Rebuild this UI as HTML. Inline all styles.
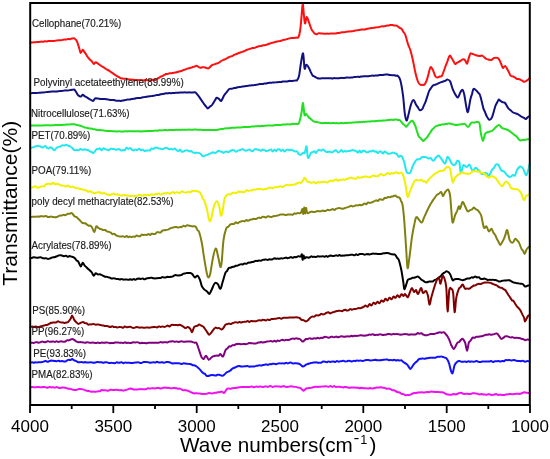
<!DOCTYPE html>
<html><head><meta charset="utf-8"><style>
html,body{margin:0;padding:0;background:#fff;}
svg{display:block;}
.c path{fill:none;stroke-width:2.0;stroke-linejoin:round;stroke-linecap:round;}
.l text{font-family:"Liberation Sans",Arial,sans-serif;font-size:10.15px;fill:#1a1a1a;stroke:#1a1a1a;stroke-width:0.15px;}
.t text{font-family:"Liberation Sans",Arial,sans-serif;font-size:17px;fill:#000;text-anchor:middle;}
.ax{font-family:"Liberation Sans",Arial,sans-serif;fill:#000;}
</style></head><body>
<svg width="550" height="459" viewBox="0 0 550 459">
<rect width="550" height="459" fill="#fff"/>
<g class="c">
<path d="M30.5,42.6 C30.8,42.6 31.6,42.5 32.1,42.4 C32.6,42.3 33.2,42.2 33.7,42.2 C34.2,42.2 34.8,42.4 35.3,42.3 C35.9,42.3 36.4,42 36.9,41.9 C37.5,41.9 38,42.1 38.5,42 C39.1,42 39.6,41.9 40.1,41.8 C40.7,41.8 41.2,41.6 41.8,41.6 C42.3,41.6 42.8,41.7 43.4,41.7 C43.9,41.6 44.4,41.4 45,41.3 C45.5,41.3 46,41.5 46.6,41.4 C47.1,41.4 47.6,41.2 48.2,41.1 C48.7,41.1 49.2,41 49.8,41 C50.3,41 50.9,41.1 51.4,41.1 C51.9,41.1 52.5,41 53,41 C53.5,41 54.1,41.1 54.6,41 C55.2,40.9 55.7,40.5 56.3,40.4 C56.8,40.3 57.4,40.3 57.9,40.3 C58.5,40.2 59,40.3 59.6,40.3 C60.1,40.3 60.7,40.3 61.2,40.2 C61.8,40.2 62.3,40 62.9,39.8 C63.4,39.7 64,39.6 64.5,39.5 C65.1,39.5 65.6,39.7 66.2,39.6 C66.7,39.5 67.3,39 67.8,39 C68.4,38.9 68.9,39.2 69.5,39.2 C70,39.1 70.6,38.8 71.1,38.7 C71.7,38.6 72.2,38.5 72.8,38.4 C73.3,38.4 73.7,37.9 74.4,38.4 C75.1,38.9 76.2,39.6 77,41.4 C77.8,43.2 78.8,47.1 79.4,49 C80,50.9 80.2,52.9 80.7,53 C81.2,53.1 82.1,49.8 82.7,49.7 C83.3,49.6 83.9,51.3 84.5,52.2 C85.1,53 85.8,54 86.4,54.9 C87,55.9 87.6,56.9 88.2,57.7 C88.8,58.5 89.5,59.1 90.1,59.8 C90.7,60.4 91.4,60.8 92,61.5 C92.6,62.2 93.1,63.9 93.7,64 C94.3,64.1 95.1,62.3 95.7,62.2 C96.3,62.1 97,62.9 97.6,63.3 C98.2,63.7 98.9,64.3 99.5,64.7 C100.1,65.2 100.8,65.6 101.4,66 C102,66.4 102.7,66.8 103.3,67.2 C103.9,67.6 104.5,67.9 105.1,68.3 C105.7,68.7 106.3,69.2 106.9,69.5 C107.5,69.9 108.1,70.1 108.7,70.5 C109.3,70.8 109.8,71.2 110.4,71.6 C111,72 111.6,72.4 112.2,72.8 C112.8,73.3 113.4,73.8 114,74.2 C114.6,74.6 115.2,75 115.8,75.3 C116.4,75.6 116.9,75.9 117.5,76.3 C118,76.6 118.6,76.9 119.1,77.2 C119.7,77.5 120.2,78.1 120.8,78.3 C121.4,78.5 122,78.5 122.6,78.6 C123.2,78.6 123.8,78.7 124.4,78.7 C125,78.8 125.6,78.7 126.2,78.8 C126.8,78.9 127.4,79.2 128,79.3 C128.6,79.4 129.2,79.4 129.8,79.5 C130.4,79.5 131,79.4 131.6,79.5 C132.2,79.5 132.8,79.7 133.4,79.8 C134,79.9 134.5,79.9 135.1,79.9 C135.6,79.9 136.2,79.9 136.7,79.9 C137.3,80 137.8,80.1 138.4,80.2 C139,80.2 139.5,80.2 140.1,80.1 C140.6,80.1 141.2,79.9 141.7,80 C142.3,80 142.8,80.4 143.4,80.4 C144,80.4 144.5,80 145.1,80 C145.6,80 146.2,80.2 146.7,80.2 C147.3,80.3 147.8,80.3 148.4,80.3 C149,80.3 149.7,80.4 150.3,80.3 C150.9,80.2 151.6,79.9 152.2,79.9 C152.8,79.8 153.5,79.9 154.1,79.9 C154.7,79.9 155.4,80 156,79.8 C156.6,79.6 157.1,78.8 157.7,78.5 C158.2,78.1 158.8,78 159.3,77.7 C159.9,77.4 160.4,76.8 161,76.5 C161.6,76.2 162.1,76.1 162.7,75.8 C163.2,75.5 163.8,75.2 164.3,74.9 C164.9,74.6 165.4,74.2 166,74 C166.6,73.8 167.2,74 167.8,73.9 C168.3,73.8 168.9,73.4 169.5,73.3 C170.1,73.2 170.7,73.3 171.2,73.2 C171.8,73.2 172.4,73 173,72.9 C173.6,72.8 174.2,72.7 174.8,72.6 C175.3,72.5 175.9,72.5 176.5,72.3 C177.1,72.1 177.7,71.9 178.3,71.7 C178.9,71.5 179.5,71.5 180.1,71.3 C180.7,71.1 181.3,71 181.9,70.8 C182.5,70.5 183,70.2 183.6,69.9 C184.2,69.7 184.8,69.7 185.4,69.5 C186,69.2 186.6,68.8 187.2,68.6 C187.8,68.4 188.4,68.3 189,68.2 C189.6,68.1 190.3,67.9 190.9,67.7 C191.5,67.5 192.2,67.2 192.8,67 C193.4,66.8 194.1,66.8 194.7,66.6 C195.3,66.4 196,65.7 196.6,65.7 C197.2,65.7 197.9,66.5 198.5,66.9 C199.1,67.2 199.8,67.6 200.4,67.7 C201,67.8 201.6,67.4 202.2,67.3 C202.8,67.3 203.4,67.1 204,67.2 C204.6,67.3 205.3,67.6 206,67.8 C206.7,68 207.4,68.6 208,68.5 C208.6,68.4 209.1,67.8 209.7,67.3 C210.2,66.9 210.8,66.2 211.3,65.7 C211.9,65.3 212.4,65 213,64.7 C213.6,64.4 214.1,64.4 214.7,64.2 C215.2,64 215.8,63.7 216.3,63.5 C216.9,63.4 217.4,63.5 218,63.2 C218.6,62.9 219.4,62.2 220.1,61.8 C220.8,61.3 221.4,60.9 222.1,60.5 C222.8,60.1 223.6,59.8 224.2,59.5 C224.8,59.2 225.3,59.2 225.9,58.9 C226.4,58.6 227,58.1 227.6,57.8 C228.1,57.5 228.7,57.3 229.2,57.1 C229.8,56.9 230.4,56.6 230.9,56.4 C231.5,56.2 232,56.2 232.6,55.9 C233.1,55.6 233.7,55 234.3,54.8 C234.8,54.5 235.4,54.4 235.9,54.2 C236.5,54 237.1,53.7 237.6,53.5 C238.2,53.2 238.7,52.9 239.3,52.7 C239.9,52.5 240.5,52.4 241.1,52.2 C241.7,52.1 242.3,51.8 242.9,51.6 C243.5,51.4 244.1,51.2 244.7,51 C245.3,50.7 245.8,50.3 246.4,50 C247,49.8 247.6,49.7 248.2,49.4 C248.8,49.2 249.4,49 250,48.8 C250.6,48.6 251.2,48.3 251.8,48.2 C252.4,48.1 253,48.1 253.6,48 C254.2,47.9 254.8,47.8 255.4,47.6 C256,47.4 256.6,46.9 257.2,46.7 C257.8,46.5 258.4,46.5 259,46.3 C259.6,46.2 260.2,46.1 260.8,45.9 C261.4,45.8 262,45.6 262.6,45.5 C263.2,45.4 263.8,45.3 264.4,45.2 C265,45.1 265.6,44.8 266.2,44.7 C266.8,44.5 267.4,44.4 268,44.2 C268.6,44 269.2,43.8 269.8,43.5 C270.4,43.3 270.9,43.1 271.5,42.9 C272.1,42.7 272.7,42.7 273.3,42.6 C273.9,42.4 274.5,42.2 275.1,42 C275.7,41.9 276.3,41.7 276.9,41.6 C277.5,41.5 278.1,41.3 278.7,41.2 C279.3,41.1 279.9,41.1 280.5,40.9 C281.1,40.8 281.7,40.5 282.3,40.3 C282.9,40.1 283.4,39.9 284,39.8 C284.6,39.6 285.2,39.5 285.8,39.4 C286.4,39.2 287,39.1 287.6,38.9 C288.2,38.8 288.8,38.6 289.4,38.4 C290,38.2 290.6,38 291.2,37.9 C291.8,37.9 292.4,38.1 293,38.1 C293.6,38.1 294.3,37.9 294.9,37.8 C295.5,37.7 296.1,37.7 296.7,37.6 C297.3,37.5 297.9,38.5 298.5,37.2 C299.1,35.9 299.6,34 300.2,30 C300.8,26 301.4,17.5 301.8,13 C302.2,8.5 302.5,2.9 302.8,2.9 C303.1,2.9 303.3,9.6 303.7,13 C304.1,16.4 304.5,22.8 305,23.5 C305.5,24.2 306.1,17.2 306.7,17 C307.3,16.8 308.1,20.1 308.9,22.2 C309.7,24.3 310.8,27.8 311.5,29.4 C312.2,31 312.6,31 313.1,31.7 C313.7,32.4 314.2,33.3 314.8,33.7 C315.4,34.1 316.2,34.3 316.8,34.2 C317.4,34.1 318,33.4 318.7,33.3 C319.4,33.2 320.1,33.4 320.8,33.4 C321.5,33.5 322.2,33.5 322.9,33.6 C323.6,33.6 324.4,33.8 325,33.8 C325.6,33.8 326.2,33.6 326.8,33.6 C327.4,33.5 328,33.8 328.6,33.8 C329.2,33.7 329.8,33.5 330.4,33.4 C330.9,33.4 331.5,33.4 332.1,33.4 C332.7,33.4 333.3,33.4 333.9,33.4 C334.5,33.4 335.1,33.6 335.7,33.5 C336.3,33.4 336.8,33.2 337.3,33.1 C337.8,33 338.4,33 338.9,33 C339.5,32.9 340,32.7 340.5,32.6 C341.1,32.5 341.6,32.4 342.1,32.3 C342.7,32.2 343.2,32.2 343.8,32.2 C344.3,32.1 344.8,32 345.4,31.9 C345.9,31.8 346.4,31.9 347,31.8 C347.5,31.7 348.1,31.5 348.6,31.4 C349.1,31.3 349.7,31.4 350.2,31.4 C350.7,31.4 351.3,31.4 351.9,31.3 C352.4,31.3 353,31.1 353.5,31 C354.1,30.8 354.7,30.6 355.2,30.5 C355.8,30.3 356.3,30.3 356.9,30.3 C357.5,30.2 358,30.1 358.6,30.1 C359.1,30 359.7,29.9 360.2,29.8 C360.8,29.7 361.4,29.5 361.9,29.4 C362.5,29.4 363,29.6 363.6,29.5 C364.1,29.5 364.7,29.5 365.3,29.4 C365.8,29.3 366.4,29 366.9,28.8 C367.5,28.7 368,28.7 368.6,28.6 C369.2,28.5 369.7,28.3 370.3,28.2 C370.8,28 371.4,28 372,27.9 C372.5,27.8 373.1,27.8 373.6,27.8 C374.2,27.7 374.7,27.7 375.3,27.6 C375.9,27.5 376.4,27.3 377,27.2 C377.5,27.1 378.1,27.3 378.6,27.2 C379.2,27.1 379.7,26.8 380.3,26.6 C380.9,26.4 381.4,26.3 382,26.3 C382.5,26.2 383.1,26.5 383.6,26.4 C384.2,26.4 384.7,26.1 385.3,25.9 C385.9,25.8 386.4,25.6 387,25.5 C387.5,25.4 388.1,25.5 388.6,25.4 C389.2,25.3 389.7,25.2 390.3,25.1 C390.9,25 391.7,25 392.4,25 C393.1,25.1 393.8,25.4 394.5,25.4 C395.2,25.5 396,25.4 396.6,25.6 C397.2,25.8 397.7,26.5 398.3,26.9 C398.8,27.3 399.4,27.7 399.9,28 C400.5,28.3 401,28.2 401.6,28.9 C402.2,29.6 402.9,31.1 403.5,32.1 C404.1,33.1 404.7,33.1 405.4,35.1 C406.1,37.1 407.1,41.4 407.9,43.9 C408.7,46.4 409.6,47.5 410.4,50.2 C411.2,52.9 412.1,56.4 412.9,60.2 C413.7,64 414.6,69.2 415.4,72.8 C416.2,76.3 417.1,79.5 417.9,81.5 C418.7,83.5 419.7,84.3 420.4,84.8 C421.1,85.3 421.7,84.7 422.3,84.7 C422.9,84.7 423.5,85.5 424.2,84.8 C424.9,84.1 426,82.2 426.7,80.3 C427.4,78.4 428,75.9 428.6,73.7 C429.2,71.5 429.8,67.8 430.5,67.2 C431.2,66.6 432.2,68.7 433,70.2 C433.8,71.8 434.7,75.3 435.5,76.5 C436.3,77.7 436.9,77.5 437.6,77.5 C438.3,77.5 439.1,76.7 439.8,76.4 C440.5,76.1 441.1,77.3 442,75.7 C442.9,74.1 444.3,69.4 445.2,67 C446.1,64.6 446.7,63.4 447.4,61.5 C448.1,59.6 448.9,56.2 449.6,55.7 C450.3,55.2 450.9,56.9 451.8,58.3 C452.7,59.6 454.2,63 455,63.8 C455.8,64.6 456.1,63.3 456.6,63 C457.2,62.7 457.7,62.5 458.3,62.2 C458.9,61.9 459.8,61.4 460.5,60.9 C461.2,60.5 462,59.6 462.7,59.4 C463.4,59.2 464.2,59.3 464.9,60 C465.6,60.7 466.4,64 467,63.8 C467.6,63.6 468.1,60.3 468.6,58.6 C469.2,56.8 469.8,54.3 470.3,53.5 C470.9,52.7 471.4,53.7 472,53.8 C472.5,54 473,54.2 473.6,54.4 C474.2,54.6 475,55 475.8,55.2 C476.5,55.4 477.2,55.6 477.9,55.7 C478.6,55.8 479.4,55.9 480.1,55.9 C480.8,55.9 481.6,55.4 482.3,55.7 C483,56 483.7,57 484.5,57.5 C485.2,58.1 485.9,58.6 486.6,59 C487.3,59.4 488.1,59.5 488.8,59.7 C489.5,59.8 490.4,60.1 491,60 C491.6,59.9 492.1,59.5 492.6,59.1 C493.2,58.8 493.5,58.1 494.3,57.9 C495.1,57.7 496.6,57.5 497.5,57.9 C498.4,58.3 499.1,59.4 499.7,60.5 C500.3,61.6 500.8,63.2 501.4,64.4 C501.9,65.7 502.4,67.9 503,68.1 C503.6,68.3 504.4,65.7 505.1,65.9 C505.8,66.1 506.7,68.1 507.3,69.2 C507.9,70.3 508.4,71.2 509,72.3 C509.5,73.4 510.1,75 510.6,75.7 C511.2,76.4 511.7,76.1 512.2,76.3 C512.8,76.4 513.4,76.5 513.9,76.8 C514.4,77.1 515,77.5 515.5,77.8 C516,78.2 516.6,78.8 517.1,79 C517.6,79.2 518.2,79 518.8,79.1 C519.3,79.2 519.9,79.5 520.4,79.7 C520.9,79.9 521.5,80.2 522,80.5 C522.6,80.9 523.1,81.7 523.7,81.8 C524.3,81.9 525.1,81.5 525.8,81.2 C526.5,80.9 527.4,80.2 528,79.7 C528.6,79.2 529.2,78.6 529.5,78.4" stroke="#ff1010"/>
<path d="M30.5,93.3 C30.8,93.3 31.6,93.1 32.1,93.1 C32.6,93 33.2,93 33.7,93 C34.2,92.9 34.8,93 35.3,93 C35.9,93 36.4,93.1 36.9,93 C37.5,92.9 38,92.7 38.5,92.7 C39.1,92.6 39.6,92.8 40.1,92.7 C40.7,92.7 41.2,92.7 41.8,92.6 C42.3,92.6 42.8,92.6 43.4,92.5 C43.9,92.4 44.4,92.2 45,92.2 C45.5,92.1 46,92 46.6,92 C47.1,91.9 47.6,91.9 48.2,91.9 C48.7,91.8 49.2,91.8 49.8,91.7 C50.3,91.7 50.9,91.6 51.4,91.6 C51.9,91.6 52.5,91.6 53,91.6 C53.5,91.6 54.1,91.5 54.6,91.5 C55.2,91.5 55.7,91.5 56.3,91.5 C56.8,91.4 57.4,91.4 57.9,91.3 C58.5,91.2 59,91 59.6,91 C60.1,90.9 60.7,90.9 61.2,90.9 C61.8,90.9 62.3,90.9 62.9,90.8 C63.4,90.7 64,90.4 64.5,90.4 C65.1,90.3 65.6,90.4 66.2,90.4 C66.7,90.4 67.3,90.4 67.8,90.4 C68.4,90.3 68.9,90.2 69.5,90.2 C70,90.1 70.6,90.1 71.1,90 C71.7,89.9 72.2,89.8 72.8,89.7 C73.3,89.7 73.8,89.2 74.4,89.6 C75,90 75.7,91.4 76.3,92.3 C76.9,93.3 77.5,94.6 78.2,95.3 C78.9,96 80,96.7 80.7,96.6 C81.5,96.5 82.1,94.9 82.7,94.8 C83.3,94.7 83.9,95.7 84.5,96.1 C85.1,96.5 85.8,96.7 86.4,97.1 C87,97.4 87.6,97.9 88.2,98.3 C88.8,98.7 89.3,99 89.9,99.3 C90.4,99.6 91,100 91.5,100.2 C92.1,100.5 92.6,101.2 93.2,100.9 C93.8,100.6 94.6,98.7 95.2,98.3 C95.8,97.9 96.3,98.4 96.8,98.4 C97.4,98.5 97.9,98.5 98.4,98.6 C99,98.7 99.5,98.9 100.1,99 C100.6,99 101.1,99 101.7,99 C102.2,99.1 102.7,99.1 103.3,99.1 C103.9,99.1 104.5,99.1 105,99.1 C105.6,99.2 106.2,99.3 106.8,99.3 C107.4,99.4 108,99.4 108.5,99.5 C109.1,99.6 109.7,99.9 110.3,100 C110.9,100.1 111.5,100.1 112,100.1 C112.6,100.1 113.2,100 113.8,100 C114.4,100.1 115,100.4 115.5,100.5 C116.1,100.6 116.7,100.7 117.3,100.7 C117.9,100.8 118.5,100.8 119,100.8 C119.6,100.8 120.2,100.9 120.8,100.9 C121.4,100.9 121.9,100.6 122.5,100.6 C123,100.5 123.6,100.5 124.2,100.3 C124.7,100.2 125.3,100 125.8,99.9 C126.4,99.8 127,99.6 127.5,99.6 C128.1,99.5 128.6,99.7 129.2,99.6 C129.7,99.6 130.3,99.4 130.9,99.2 C131.4,99.1 132,99 132.5,98.9 C133.1,98.8 133.7,98.9 134.2,98.8 C134.8,98.7 135.3,98.4 135.9,98.3 C136.5,98.2 137.1,98.1 137.7,98 C138.2,98 138.8,98 139.4,97.9 C140,97.9 140.6,97.8 141.2,97.7 C141.7,97.6 142.3,97.3 142.9,97.2 C143.5,97.1 144.1,97 144.7,97 C145.2,96.9 145.8,96.8 146.4,96.7 C147,96.6 147.6,96.5 148.2,96.4 C148.7,96.4 149.3,96.4 149.9,96.3 C150.5,96.3 151.1,96 151.7,96 C152.2,95.9 152.8,95.9 153.4,95.8 C154,95.7 154.6,95.6 155.2,95.4 C155.8,95.3 156.4,95 157,94.9 C157.6,94.9 158.2,95 158.8,94.9 C159.4,94.8 160,94.5 160.6,94.3 C161.2,94.2 161.8,94.1 162.4,94 C163,93.9 163.6,93.8 164.2,93.7 C164.8,93.6 165.4,93.4 166,93.3 C166.6,93.2 167.2,93.4 167.8,93.4 C168.3,93.3 168.9,93.1 169.5,93.1 C170.1,93.1 170.7,93.2 171.2,93.2 C171.8,93.2 172.4,93 173,93 C173.6,92.9 174.2,92.9 174.8,92.9 C175.3,92.9 175.9,92.8 176.5,92.8 C177.1,92.8 177.6,92.8 178.2,92.8 C178.8,92.7 179.4,92.5 179.9,92.5 C180.5,92.5 181.1,92.6 181.7,92.6 C182.2,92.6 182.8,92.5 183.4,92.5 C183.9,92.4 184.5,92.3 185.1,92.4 C185.7,92.4 186.2,92.7 186.8,92.6 C187.4,92.6 188,92.4 188.5,92.4 C189.1,92.3 189.7,92.4 190.2,92.4 C190.8,92.4 191.4,92.5 192,92.5 C192.5,92.5 193.1,92.4 193.7,92.4 C194.3,92.3 194.8,92 195.4,92.3 C196,92.6 196.6,93.7 197.2,94.4 C197.8,95.1 198.4,95.8 199,96.6 C199.6,97.4 200.1,98.3 200.7,99.1 C201.3,99.9 201.8,100.8 202.4,101.6 C203,102.5 203.5,103.3 204.1,104.1 C204.7,104.9 205.4,105.6 206,106.4 C206.6,107.1 207.3,108.3 207.9,108.4 C208.5,108.5 209.2,107.2 209.8,106.7 C210.4,106.2 211.1,106 211.7,105.4 C212.3,104.8 212.8,103.8 213.4,102.9 C213.9,102 214.5,101.1 215,100.2 C215.6,99.4 216,98 216.7,97.8 C217.4,97.6 218.4,98.6 219.2,99.1 C219.9,99.6 220.4,101.5 221.2,100.9 C222,100.3 223.4,96.6 224.2,95.3 C225,94 225.3,93.8 225.9,93.1 C226.4,92.4 227,91.9 227.5,91.2 C228.1,90.5 228.6,89.4 229.2,89 C229.8,88.6 230.3,88.8 230.9,88.7 C231.4,88.6 232,88.5 232.6,88.4 C233.1,88.3 233.7,88.2 234.2,88.1 C234.8,88 235.4,88 235.9,87.8 C236.5,87.7 237.1,87.4 237.6,87.3 C238.2,87.2 238.7,87.1 239.3,87 C239.9,86.9 240.4,86.9 241,86.8 C241.5,86.7 242.1,86.6 242.6,86.5 C243.2,86.5 243.8,86.4 244.3,86.3 C244.9,86.2 245.4,86.2 246,86.1 C246.6,86.1 247.1,85.9 247.7,85.8 C248.2,85.7 248.8,85.7 249.3,85.6 C249.9,85.5 250.5,85.4 251,85.4 C251.6,85.3 252.1,85.4 252.7,85.3 C253.2,85.2 253.8,85.1 254.4,85 C254.9,84.9 255.5,84.9 256,84.8 C256.6,84.8 257.1,84.7 257.7,84.6 C258.3,84.5 258.8,84.2 259.4,84.1 C259.9,84 260.5,84 261.1,84 C261.6,84 262.2,84 262.7,83.9 C263.3,83.8 263.8,83.6 264.4,83.5 C265,83.4 265.5,83.5 266.1,83.5 C266.6,83.4 267.2,83.1 267.7,83 C268.3,82.9 268.8,82.9 269.4,82.8 C270,82.8 270.5,82.9 271.1,82.8 C271.6,82.8 272.2,82.6 272.7,82.5 C273.3,82.4 273.8,82.5 274.4,82.4 C275,82.3 275.5,82.2 276.1,82.2 C276.6,82.1 277.2,82.2 277.7,82.2 C278.3,82.2 278.8,82.2 279.4,82.1 C280,82.1 280.5,82.1 281.1,82 C281.6,81.9 282.2,81.6 282.7,81.5 C283.3,81.4 283.8,81.5 284.4,81.5 C285,81.5 285.6,81.5 286.2,81.4 C286.8,81.4 287.4,81.3 288,81.2 C288.6,81.1 289.2,80.9 289.8,80.8 C290.4,80.8 291,81 291.6,81 C292.2,81 292.8,80.9 293.4,80.8 C294,80.7 294.6,80.4 295.2,80.4 C295.8,80.3 296.4,81 297,80.3 C297.6,79.6 298.3,78.9 299,76 C299.7,73.1 300.3,66.5 301,62.7 C301.7,59 302.5,52.5 303.1,53.5 C303.7,54.5 304.1,66.6 304.6,68.5 C305.1,70.4 305.6,64.8 306.3,64.7 C307,64.6 308.1,66.5 308.8,67.7 C309.5,68.9 310,70.4 310.6,71.7 C311.3,72.9 311.9,74.5 312.5,75.3 C313.1,76.1 313.6,75.9 314.2,76.3 C314.8,76.6 315.3,77 315.9,77.3 C316.5,77.6 317,78.1 317.6,78.3 C318.2,78.5 318.7,78.5 319.3,78.5 C319.8,78.5 320.4,78.5 320.9,78.4 C321.5,78.4 322,78.2 322.6,78.2 C323.2,78.1 323.7,78.2 324.3,78.3 C324.8,78.3 325.4,78.3 325.9,78.3 C326.5,78.3 327,78.3 327.6,78.2 C328.2,78.2 328.7,78.2 329.3,78.2 C329.8,78.2 330.4,78.2 330.9,78.2 C331.5,78.3 332,78.4 332.6,78.4 C333.2,78.4 333.7,78.1 334.3,78.1 C334.8,78.1 335.4,78.3 335.9,78.3 C336.5,78.4 337,78.3 337.6,78.3 C338.2,78.3 338.7,78.2 339.3,78.2 C339.8,78.1 340.4,77.9 340.9,77.9 C341.5,77.8 342.1,77.9 342.6,77.9 C343.2,77.9 343.7,77.9 344.3,77.9 C344.9,77.8 345.4,77.8 346,77.7 C346.5,77.6 347.1,77.4 347.6,77.4 C348.2,77.4 348.8,77.6 349.3,77.7 C349.9,77.7 350.4,77.5 351,77.5 C351.5,77.4 352.1,77.5 352.7,77.4 C353.2,77.3 353.8,77 354.3,76.9 C354.9,76.9 355.4,76.9 356,76.9 C356.6,76.8 357.1,76.7 357.7,76.7 C358.2,76.7 358.8,76.9 359.4,76.9 C359.9,76.8 360.5,76.6 361,76.5 C361.6,76.5 362.1,76.6 362.7,76.5 C363.3,76.4 363.8,76.3 364.4,76.2 C364.9,76.2 365.5,76.2 366,76.2 C366.6,76.2 367.2,76.3 367.7,76.3 C368.3,76.2 368.8,76.2 369.4,76.1 C370,76 370.5,75.8 371.1,75.7 C371.6,75.6 372.2,75.6 372.7,75.6 C373.3,75.6 373.9,75.8 374.4,75.7 C375,75.7 375.5,75.5 376.1,75.5 C376.6,75.4 377.2,75.5 377.8,75.4 C378.3,75.3 378.9,75.1 379.4,75 C380,74.9 380.5,74.9 381.1,74.9 C381.7,74.9 382.2,75 382.8,75 C383.3,75 383.9,74.8 384.5,74.7 C385,74.7 385.6,74.5 386.1,74.5 C386.7,74.4 387.2,74.4 387.8,74.5 C388.4,74.6 388.9,74.8 389.5,74.9 C390,75 390.6,74.9 391.1,75 C391.7,75.1 392.2,75.2 392.8,75.3 C393.4,75.3 393.9,75.1 394.5,75.2 C395,75.3 395.6,75.6 396.1,75.7 C396.7,75.8 397.1,75 397.8,75.8 C398.5,76.6 399.5,77 400.4,80.4 C401.3,83.8 402.4,90.6 403.1,96.1 C403.8,101.6 404.2,109.4 404.8,113.5 C405.4,117.6 405.9,120.2 406.5,120.5 C407.1,120.8 407.6,117.9 408.3,115.3 C409,112.7 410,107.3 410.9,104.8 C411.8,102.2 412.6,100 413.5,100 C414.4,100 415.4,103.6 416.1,104.8 C416.8,106 417.3,106.4 417.9,107.2 C418.4,108.1 418.9,109.7 419.6,110 C420.3,110.3 421.5,110 422.2,109.2 C422.9,108.4 423.4,106.7 423.9,105.4 C424.5,104.1 425.1,102.9 425.7,101.3 C426.3,99.7 426.9,97.8 427.4,96.1 C428,94.3 428.6,92.2 429.2,90.9 C429.8,89.6 430.4,89.1 430.9,88.2 C431.5,87.4 432.1,86.3 432.7,85.7 C433.3,85.1 434.1,85.1 434.7,84.9 C435.4,84.6 436.1,84.4 436.8,84.1 C437.4,83.8 438.2,83.4 438.8,83.1 C439.4,82.8 440,82.6 440.5,82.4 C441.1,82.2 441.7,81.9 442.3,81.8 C442.8,81.6 443.4,81.5 444,81.3 C444.6,81.1 445.2,80.7 445.8,80.5 C446.3,80.2 446.8,79.5 447.5,79.6 C448.2,79.7 449.2,79.7 450.1,81.3 C451,82.9 451.8,87 452.7,89.2 C453.6,91.4 454.4,93 455.3,94.4 C456.2,95.8 457,97.9 457.9,97.5 C458.8,97.1 459.7,93.4 460.5,92.1 C461.3,90.8 462.1,89.4 462.7,89.9 C463.3,90.4 463.8,92.2 464.4,95.3 C465,98.4 466,105.7 466.6,108.4 C467.2,111.1 467.5,113.2 468.1,111.7 C468.7,110.2 469.7,102.6 470.3,99.7 C470.9,96.8 471.4,96 472,94.1 C472.5,92.3 472.8,89.3 473.6,88.8 C474.4,88.3 476,90.3 476.8,91 C477.6,91.7 477.9,92.3 478.5,93 C479,93.7 479.6,93.8 480.1,95.3 C480.7,96.8 481.2,99.5 481.8,101.7 C482.3,103.9 482.9,106.7 483.4,108.4 C483.9,110.1 484.5,110.8 485,112 C485.5,113.3 485.9,114.7 486.6,116 C487.3,117.3 488.3,119.5 489.2,119.7 C490.1,119.9 491.1,119.3 492.1,117.1 C493.1,114.8 494.5,108.6 495.3,106.2 C496.1,103.8 496.4,103.9 497,102.8 C497.5,101.7 498.1,100.1 498.6,99.7 C499.2,99.3 499.7,100.4 500.2,100.7 C500.8,101.1 501.4,101.6 501.9,101.9 C502.4,102.2 503,102.2 503.5,102.4 C504,102.6 504.6,102.4 505.1,103 C505.6,103.6 506.2,104.9 506.8,105.8 C507.3,106.7 507.8,107.7 508.4,108.4 C509,109.1 509.9,109.6 510.6,110.3 C511.3,110.9 512.1,111.8 512.8,112.3 C513.5,112.8 514.2,112.8 515,113.1 C515.7,113.4 516.4,113.6 517.1,113.9 C517.8,114.2 518.6,114.7 519.3,115.2 C520,115.6 520.8,116.3 521.5,116.7 C522.2,117.1 522.9,117.4 523.6,117.7 C524.4,118.1 525.1,119 525.8,118.9 C526.5,118.8 527,117.7 527.6,117.3 C528.3,116.8 529.2,116.2 529.5,116" stroke="#101080"/>
<path d="M30.5,125.6 C30.8,125.6 31.6,125.5 32.1,125.5 C32.6,125.5 33.2,125.4 33.7,125.4 C34.2,125.4 34.8,125.6 35.3,125.6 C35.9,125.6 36.4,125.5 36.9,125.5 C37.5,125.5 38,125.4 38.5,125.4 C39.1,125.4 39.6,125.4 40.1,125.4 C40.7,125.4 41.2,125.6 41.8,125.5 C42.3,125.5 42.8,125.3 43.4,125.3 C43.9,125.2 44.4,125.4 45,125.4 C45.5,125.4 46,125.3 46.6,125.3 C47.1,125.3 47.6,125.3 48.2,125.3 C48.7,125.3 49.2,125.4 49.8,125.4 C50.3,125.3 50.9,125.2 51.4,125.2 C51.9,125.2 52.5,125.2 53,125.2 C53.5,125.2 54.1,125.1 54.7,125.1 C55.2,125.1 55.8,125.1 56.4,125.1 C56.9,125.1 57.5,125.2 58,125.1 C58.6,125.1 59.1,124.9 59.7,124.9 C60.3,124.8 60.8,125 61.4,125 C61.9,124.9 62.5,124.9 63.1,124.8 C63.6,124.8 64.2,124.8 64.7,124.8 C65.3,124.7 65.9,124.7 66.4,124.6 C67,124.6 67.5,124.6 68.1,124.5 C68.7,124.5 69.2,124.4 69.8,124.4 C70.3,124.3 70.9,124.3 71.4,124.3 C72,124.3 72.6,124.2 73.1,124.2 C73.7,124.2 74.2,124.2 74.8,124.3 C75.4,124.4 76,124.8 76.6,124.9 C77.2,125.1 77.8,125.2 78.4,125.3 C79,125.5 79.6,125.7 80.2,125.8 C80.9,126 81.5,126.2 82.1,126.4 C82.7,126.6 83.3,126.9 83.9,127.2 C84.5,127.4 85.1,127.4 85.7,127.6 C86.3,127.8 86.9,127.9 87.5,128.1 C88.1,128.2 88.7,128.3 89.3,128.4 C89.9,128.5 90.5,128.5 91.1,128.6 C91.7,128.7 92.2,128.8 92.8,129 C93.4,129.1 94,129.2 94.6,129.3 C95.2,129.5 95.8,129.6 96.4,129.7 C97,129.9 97.6,130 98.2,130.1 C98.8,130.2 99.4,130.1 100,130.1 C100.5,130.2 101.1,130.3 101.7,130.3 C102.3,130.4 102.9,130.3 103.5,130.4 C104.1,130.5 104.7,130.7 105.2,130.8 C105.8,130.8 106.4,130.9 107,130.9 C107.6,130.9 108.2,130.9 108.8,130.9 C109.3,130.9 109.9,130.9 110.5,130.9 C111.1,131 111.7,131.2 112.3,131.3 C112.9,131.3 113.5,131.2 114,131.2 C114.6,131.2 115.2,131.4 115.8,131.4 C116.4,131.4 116.9,131.4 117.5,131.4 C118,131.3 118.6,131.2 119.1,131.3 C119.7,131.3 120.3,131.3 120.8,131.4 C121.4,131.4 121.9,131.4 122.5,131.4 C123.1,131.4 123.6,131.4 124.2,131.4 C124.7,131.4 125.3,131.3 125.8,131.3 C126.4,131.3 127,131.4 127.5,131.4 C128.1,131.4 128.6,131.3 129.2,131.3 C129.7,131.2 130.3,131.3 130.9,131.3 C131.4,131.3 132,131.3 132.5,131.3 C133.1,131.3 133.6,131.4 134.2,131.4 C134.8,131.4 135.3,131.3 135.9,131.3 C136.4,131.2 137,131.2 137.6,131.3 C138.1,131.3 138.7,131.3 139.2,131.3 C139.8,131.4 140.3,131.4 140.9,131.4 C141.5,131.4 142,131.3 142.6,131.2 C143.1,131.2 143.7,131.3 144.2,131.3 C144.8,131.2 145.4,131.2 145.9,131.1 C146.5,131.1 147,131.2 147.6,131.1 C148.2,131.1 148.7,131 149.3,131 C149.8,131 150.4,131 150.9,130.9 C151.5,130.9 152.1,131 152.6,130.9 C153.2,130.9 153.7,130.7 154.3,130.7 C154.8,130.6 155.4,130.6 156,130.6 C156.5,130.6 157.1,130.7 157.6,130.7 C158.2,130.6 158.7,130.4 159.3,130.3 C159.9,130.3 160.4,130.4 161,130.4 C161.5,130.4 162.1,130.4 162.7,130.3 C163.2,130.3 163.8,130.1 164.3,130 C164.9,130 165.4,130.1 166,130.1 C166.6,130.1 167.1,130.2 167.7,130.2 C168.2,130.2 168.8,130.2 169.3,130.1 C169.9,130.1 170.4,130.1 170.9,130 C171.5,130 172,130 172.6,130 C173.2,130 173.7,130.1 174.2,130 C174.8,130 175.3,129.8 175.9,129.8 C176.5,129.8 177,129.9 177.6,129.9 C178.1,129.9 178.6,129.8 179.2,129.8 C179.8,129.8 180.3,129.9 180.8,129.9 C181.4,129.9 181.9,129.8 182.5,129.8 C183.1,129.8 183.6,129.8 184.2,129.8 C184.7,129.8 185.2,129.7 185.8,129.7 C186.3,129.7 186.9,129.8 187.4,129.8 C188,129.7 188.5,129.6 189.1,129.6 C189.7,129.6 190.2,129.7 190.8,129.7 C191.3,129.7 191.9,129.7 192.4,129.7 C193,129.7 193.6,129.6 194.1,129.6 C194.7,129.6 195.2,129.6 195.8,129.6 C196.4,129.6 196.9,129.6 197.5,129.7 C198,129.7 198.6,129.7 199.1,129.8 C199.7,129.8 200.3,129.7 200.8,129.7 C201.4,129.7 201.9,129.9 202.5,130 C203,130 203.6,129.9 204.2,129.9 C204.7,129.9 205.3,130 205.8,130 C206.4,130 206.9,130 207.5,130 C208.1,130 208.6,130 209.2,130.1 C209.7,130.1 210.3,130.1 210.9,130 C211.4,130 212,129.9 212.5,129.9 C213.1,129.9 213.6,130.1 214.2,130.1 C214.8,130.1 215.4,130 216,129.9 C216.6,129.9 217.2,129.8 217.8,129.7 C218.4,129.6 219,129.4 219.6,129.3 C220.2,129.2 220.7,129.2 221.3,129.1 C221.9,129 222.5,129 223.1,128.9 C223.7,128.8 224.3,128.5 224.9,128.4 C225.5,128.3 226.1,128.3 226.7,128.3 C227.3,128.3 227.8,128.3 228.4,128.3 C228.9,128.2 229.5,128.1 230,128 C230.6,127.9 231.2,127.9 231.7,127.8 C232.3,127.8 232.8,127.8 233.4,127.8 C234,127.8 234.5,127.8 235.1,127.8 C235.6,127.8 236.2,127.6 236.7,127.5 C237.3,127.5 237.9,127.6 238.4,127.6 C239,127.6 239.5,127.6 240.1,127.5 C240.6,127.5 241.2,127.3 241.8,127.3 C242.3,127.2 242.9,127.2 243.4,127.1 C244,127.1 244.5,127.1 245.1,127 C245.7,127 246.2,127 246.8,127 C247.3,127 247.9,126.9 248.5,126.9 C249,126.9 249.6,126.8 250.1,126.7 C250.7,126.7 251.2,126.6 251.8,126.6 C252.4,126.6 252.9,126.6 253.5,126.5 C254,126.5 254.6,126.3 255.1,126.3 C255.7,126.2 256.3,126.2 256.8,126.2 C257.4,126.2 257.9,126.1 258.5,126.1 C259.1,126.1 259.6,126.2 260.2,126.2 C260.7,126.1 261.3,126 261.8,125.9 C262.4,125.9 263,126 263.5,125.9 C264.1,125.9 264.6,125.7 265.2,125.7 C265.7,125.6 266.3,125.6 266.9,125.6 C267.4,125.5 268,125.5 268.5,125.5 C269.1,125.5 269.6,125.6 270.2,125.6 C270.8,125.5 271.3,125.5 271.9,125.5 C272.4,125.4 273,125.4 273.6,125.4 C274.1,125.3 274.7,125.2 275.2,125.1 C275.8,125.1 276.3,125.1 276.9,125.1 C277.5,125.1 278.1,125 278.6,125 C279.2,124.9 279.8,124.9 280.4,124.9 C281,124.8 281.5,124.8 282.1,124.7 C282.7,124.7 283.3,124.5 283.8,124.5 C284.4,124.5 285,124.7 285.6,124.6 C286.2,124.6 286.7,124.3 287.3,124.3 C287.9,124.3 288.5,124.4 289.1,124.4 C289.6,124.4 290.2,124.4 290.8,124.3 C291.4,124.2 291.9,124 292.5,123.9 C293.1,123.8 293.7,123.9 294.3,123.9 C294.8,123.9 295.2,123.9 296,123.8 C296.8,123.7 298.1,125 299,123.1 C299.9,121.2 300.8,115.8 301.5,112.5 C302.2,109.2 302.5,102.6 303,103 C303.5,103.4 304,113.2 304.5,115 C305,116.8 305.3,113.5 306,113.8 C306.7,114.1 307.8,116.2 308.5,117 C309.2,117.8 309.6,118 310.2,118.5 C310.8,119 311.3,119.5 311.9,120 C312.5,120.5 313,121 313.6,121.3 C314.2,121.6 314.9,121.6 315.5,121.7 C316.1,121.9 316.7,122 317.4,122.1 C318,122.3 318.6,122.4 319.2,122.6 C319.9,122.7 320.5,123 321.1,123.1 C321.7,123.2 322.2,123.2 322.8,123.2 C323.3,123.2 323.9,123 324.4,123 C325,123 325.6,123.1 326.1,123.1 C326.7,123.1 327.2,123 327.8,123 C328.4,123 328.9,123.1 329.5,123.1 C330,123.1 330.6,123.3 331.1,123.2 C331.7,123.2 332.3,123 332.8,123 C333.4,123 333.9,123.2 334.5,123.2 C335,123.2 335.6,123.1 336.2,123.1 C336.7,123.1 337.3,123.2 337.8,123.2 C338.4,123.2 338.9,123.2 339.5,123.2 C340.1,123.1 340.6,123 341.2,123 C341.7,123 342.3,123.2 342.9,123.2 C343.4,123.2 344,123.1 344.5,123.1 C345.1,123.1 345.6,123.1 346.2,123.1 C346.8,123.1 347.3,122.9 347.9,122.8 C348.4,122.8 349,122.7 349.5,122.7 C350.1,122.7 350.7,122.8 351.2,122.7 C351.8,122.7 352.3,122.7 352.9,122.6 C353.5,122.6 354,122.5 354.6,122.4 C355.1,122.4 355.7,122.3 356.2,122.3 C356.8,122.2 357.4,122.2 357.9,122.2 C358.5,122.2 359,122.1 359.6,122.1 C360.1,122.1 360.7,122.2 361.3,122.1 C361.8,122.1 362.4,121.8 362.9,121.8 C363.5,121.7 364,121.9 364.6,121.9 C365.2,121.9 365.7,121.8 366.3,121.8 C366.8,121.7 367.4,121.5 368,121.4 C368.5,121.4 369.1,121.6 369.6,121.5 C370.2,121.5 370.7,121.3 371.3,121.3 C371.9,121.3 372.4,121.3 373,121.3 C373.5,121.2 374.1,121.3 374.6,121.2 C375.2,121.1 375.8,121 376.3,120.9 C376.9,120.8 377.4,120.8 378,120.8 C378.6,120.8 379.1,120.7 379.7,120.7 C380.2,120.7 380.8,120.8 381.3,120.8 C381.9,120.7 382.5,120.6 383,120.5 C383.6,120.5 384.1,120.4 384.7,120.4 C385.2,120.3 385.8,120.3 386.4,120.3 C386.9,120.2 387.5,120.2 388,120.1 C388.6,120 389.1,120 389.7,119.9 C390.3,119.9 390.8,119.8 391.4,119.8 C391.9,119.8 392.5,120 393.1,119.9 C393.6,119.9 394.2,119.7 394.7,119.6 C395.3,119.6 395.9,119.5 396.4,119.6 C396.9,119.7 397.5,119.9 398,120 C398.5,120.1 399,119.8 399.6,120.1 C400.2,120.4 400.8,121.3 401.4,122 C401.9,122.6 402.5,123.5 403.1,124 C403.7,124.5 404.2,124.8 404.8,125.2 C405.4,125.7 405.8,127 406.5,126.6 C407.2,126.2 408.2,124.1 409.2,123.1 C410.2,122.1 411.3,120.4 412.3,120.8 C413.3,121.2 414.4,124 415.2,125.7 C416,127.4 416.4,129.2 416.9,131 C417.5,132.7 418,134.9 418.7,136.2 C419.4,137.5 420.2,137.7 420.9,138.5 C421.6,139.3 422.4,140.8 423.1,141 C423.8,141.2 424.3,139.9 424.9,139.4 C425.4,138.9 426,138.6 426.6,137.9 C427.2,137.2 427.8,136.3 428.3,135.4 C428.9,134.6 429.5,133.7 430.1,132.8 C430.6,131.9 431.2,130.9 431.8,130.1 C432.4,129.3 433.2,128.8 433.9,128.1 C434.6,127.5 435.3,126.4 436,126 C436.7,125.6 437.3,125.7 438,125.5 C438.7,125.3 439.3,125.2 440,125.1 C440.7,124.9 441.4,124.5 442,124.4 C442.6,124.3 443.1,124.4 443.6,124.4 C444.1,124.3 444.7,124.2 445.2,124.1 C445.7,124 446.3,124.1 446.8,124 C447.3,123.9 447.9,123.7 448.4,123.6 C448.9,123.6 449.4,123.5 450,123.6 C450.6,123.7 451.3,124 452,124.1 C452.7,124.3 453.3,124.4 454,124.5 C454.7,124.7 455.3,125 456,125 C456.7,125 457.3,124.9 458,124.8 C458.7,124.7 459.4,124.5 460,124.4 C460.6,124.3 461.1,124.4 461.7,124.3 C462.2,124.3 462.8,124.1 463.3,124.1 C463.9,124 464.2,123.5 465,124 C465.8,124.5 467,127.2 468,127 C469,126.8 470.2,123.7 471,123 C471.8,122.3 472.2,122.7 472.8,122.6 C473.3,122.6 473.9,122.7 474.5,122.6 C475.1,122.5 475.7,122.2 476.2,122.1 C476.8,122 477.4,121.7 478,122 C478.6,122.3 479.1,122 479.6,124 C480.1,126 480.4,131.2 481,134 C481.6,136.8 482.3,141 483,141 C483.7,141 484.2,135.5 485,134 C485.8,132.5 487.2,132.4 488,132 C488.8,131.6 489.3,131.7 490,131.5 C490.7,131.3 491.3,131.4 492,131 C492.7,130.6 493.3,129.6 494,129 C494.7,128.3 495.2,127.7 496,127 C496.8,126.3 498,124.8 499,125 C500,125.2 501,127.3 502,128 C503,128.7 504,128.7 505,129 C506,129.3 507.2,129.6 508,130 C508.8,130.4 509.3,130.9 510,131.4 C510.7,131.9 511.3,132.5 512,133 C512.7,133.5 513.3,134.1 514,134.6 C514.7,135.1 515.3,135.4 516,136 C516.7,136.6 517.3,137.6 518,138.3 C518.7,139.1 519.3,140.1 520,140.4 C520.7,140.7 521.3,140.2 522,140.1 C522.7,140.1 523.4,140.1 524,140 C524.6,139.9 525.2,139.8 525.8,139.7 C526.4,139.6 527.1,139.4 527.7,139.3 C528.3,139.2 529.2,139 529.5,139" stroke="#20e020"/>
<path d="M30.5,147.7 C30.8,147.7 31.6,147.8 32.2,147.6 C32.7,147.5 33.3,147.2 33.8,147 C34.4,146.8 34.9,146.4 35.5,146.2 C36.1,146 36.6,146 37.2,146 C37.7,145.9 38.3,145.8 38.8,145.9 C39.4,145.9 39.9,146.1 40.5,146.4 C41.1,146.7 41.6,147.5 42.2,147.6 C42.7,147.6 43.3,146.9 43.9,146.7 C44.4,146.4 45,145.9 45.5,146.1 C46.1,146.3 46.7,147.6 47.2,148 C47.8,148.4 48.4,148.5 48.9,148.4 C49.5,148.2 50,147.2 50.6,147.2 C51.2,147.2 51.8,148.1 52.5,148.6 C53.1,149.1 53.6,150.3 54.3,150.2 C55,150.1 55.7,148.6 56.4,148 C57.1,147.4 57.8,147.1 58.5,146.9 C59.2,146.6 59.9,146.7 60.6,146.4 C61.3,146.1 61.9,145.3 62.5,145.2 C63.1,145 63.7,145.7 64.3,145.6 C65,145.6 65.6,144.8 66.2,144.8 C66.8,144.8 67.4,145.4 68.1,145.7 C68.8,146 69.5,146.1 70.2,146.5 C70.9,146.9 71.6,147.5 72.3,148.1 C73,148.7 73.7,149.9 74.4,150.2 C75.1,150.5 75.8,149.9 76.5,149.9 C77.2,150 77.9,150.5 78.6,150.3 C79.3,150.2 80,149 80.7,148.9 C81.4,148.8 82,149.8 82.6,149.9 C83.2,149.9 83.8,149.4 84.5,149.3 C85.1,149.3 85.7,149.5 86.3,149.7 C87,149.8 87.6,149.9 88.2,150.2 C88.8,150.5 89.3,151 89.9,151.3 C90.4,151.5 91,151.6 91.5,151.9 C92.1,152.2 92.6,153.3 93.2,153.2 C93.8,153.1 94.3,152 94.9,151.3 C95.4,150.7 96,149.6 96.5,149.2 C97.1,148.8 97.6,149 98.2,148.9 C98.8,148.8 99.4,148.2 100,148.4 C100.5,148.6 101.1,150.3 101.7,150.3 C102.3,150.2 102.9,148.3 103.5,148.2 C104.1,148 104.7,149 105.2,149.2 C105.8,149.5 106.4,149.5 107,149.6 C107.6,149.8 108.2,150.5 108.8,150.3 C109.3,150.2 109.9,149 110.5,148.7 C111.1,148.5 111.7,148.9 112.3,148.9 C112.9,149 113.5,148.8 114,149 C114.6,149.1 115.2,149.6 115.8,149.7 C116.4,149.8 117,149.4 117.6,149.3 C118.2,149.3 118.8,149.1 119.4,149.3 C120,149.5 120.6,150.4 121.2,150.5 C121.8,150.7 122.4,150.2 123,150.1 C123.6,150.1 124.2,150.5 124.8,150.1 C125.4,149.7 126,148 126.6,147.8 C127.2,147.6 127.8,148.9 128.4,148.9 C129,148.9 129.6,147.7 130.2,147.9 C130.8,148 131.4,149.4 132,149.8 C132.6,150.3 133.2,150.5 133.8,150.5 C134.4,150.4 134.9,149.6 135.5,149.6 C136.1,149.5 136.7,150.2 137.3,150.1 C137.9,149.9 138.5,148.7 139.1,148.7 C139.7,148.7 140.3,150 140.9,150.2 C141.5,150.4 142.1,149.6 142.7,149.7 C143.3,149.9 143.9,150.8 144.5,150.9 C145.1,151.1 145.7,150.6 146.3,150.5 C146.9,150.4 147.4,150.4 148,150.4 C148.6,150.4 149.2,150.8 149.8,150.5 C150.4,150.2 151,148.7 151.6,148.4 C152.2,148.2 152.8,149 153.4,148.9 C154,148.8 154.6,147.9 155.2,147.7 C155.8,147.5 156.4,147.5 157,147.7 C157.6,147.8 158.2,148.3 158.8,148.4 C159.4,148.6 160,148.6 160.6,148.7 C161.2,148.8 161.8,149.2 162.4,149.2 C163,149.2 163.6,148.7 164.2,148.4 C164.8,148.2 165.4,147.7 166,147.7 C166.6,147.7 167.2,148.2 167.8,148.5 C168.3,148.8 168.9,149.2 169.5,149.2 C170.1,149.3 170.7,148.8 171.2,148.8 C171.8,148.9 172.4,149.5 173,149.5 C173.6,149.5 174.2,148.5 174.8,148.6 C175.3,148.7 175.9,149.8 176.5,150.2 C177.1,150.6 177.7,151.2 178.3,151.1 C178.9,151 179.5,149.7 180.1,149.8 C180.7,150 181.3,151.6 181.9,151.8 C182.5,152 183.1,151.5 183.7,151.3 C184.3,151.1 184.9,150.7 185.5,150.5 C186.1,150.4 186.7,150.1 187.3,150.3 C187.9,150.4 188.5,151.3 189.1,151.4 C189.7,151.5 190.3,150.9 191,151.1 C191.6,151.2 192.2,152.1 192.8,152.4 C193.5,152.7 194.1,152.8 194.7,152.9 C195.3,152.9 195.9,152.7 196.6,152.7 C197.3,152.7 198,152.7 198.7,152.9 C199.4,153.1 200.1,153.5 200.8,154 C201.5,154.6 202.2,156.1 202.9,156.4 C203.6,156.7 204.3,155.9 205,155.6 C205.7,155.4 206.4,155.2 207.1,154.9 C207.8,154.7 208.5,154.2 209.2,153.9 C209.9,153.6 210.4,153.4 211.1,153.2 C211.7,152.9 212.3,152.4 212.9,152.3 C213.6,152.3 214.2,152.9 214.8,152.9 C215.4,152.9 216.1,152.5 216.7,152.2 C217.3,151.9 217.8,150.9 218.4,150.8 C218.9,150.7 219.5,151.3 220,151.4 C220.6,151.6 221.1,151.5 221.7,151.7 C222.3,151.9 222.8,152.8 223.4,152.9 C223.9,152.9 224.5,152.2 225,151.9 C225.6,151.7 226.1,151.3 226.7,151.4 C227.3,151.5 227.9,152.3 228.5,152.2 C229.1,152.2 229.7,151.3 230.3,151 C230.9,150.7 231.5,150.4 232.1,150.2 C232.7,150 233.3,149.8 233.9,150.1 C234.5,150.3 235.1,151.6 235.7,151.7 C236.3,151.9 236.9,151.2 237.5,150.9 C238.1,150.6 238.7,150.4 239.3,150.2 C239.9,150 240.4,149.9 241,149.7 C241.5,149.5 242.1,148.9 242.6,149 C243.2,149 243.8,149.9 244.3,150.2 C244.9,150.5 245.4,150.7 246,150.7 C246.6,150.6 247.1,150.2 247.7,150 C248.2,149.8 248.8,149.5 249.3,149.6 C249.9,149.7 250.5,150.3 251,150.6 C251.6,150.9 252.1,151.5 252.7,151.3 C253.2,151.1 253.8,149.9 254.4,149.5 C254.9,149.1 255.5,148.9 256,149 C256.6,149 257.1,149.6 257.7,149.8 C258.3,149.9 258.8,149.8 259.4,150 C259.9,150.1 260.5,150.8 261.1,150.7 C261.6,150.6 262.2,149.5 262.7,149.4 C263.3,149.3 263.8,149.9 264.4,150.2 C265,150.5 265.5,150.9 266.1,151 C266.6,151.1 267.2,150.9 267.7,150.8 C268.3,150.7 268.8,150.4 269.4,150.2 C270,150 270.5,149.2 271.1,149.4 C271.6,149.6 272.2,151.4 272.7,151.4 C273.3,151.5 273.8,149.8 274.4,149.7 C275,149.6 275.5,151.1 276.1,151 C276.6,151 277.2,149.8 277.7,149.5 C278.3,149.2 278.8,149.2 279.4,149.5 C280,149.7 280.5,150.8 281.1,150.9 C281.6,150.9 282.2,149.6 282.7,149.7 C283.3,149.7 283.8,151.3 284.4,151.4 C285,151.5 285.5,150.5 286.1,150.2 C286.6,149.9 287.2,149.4 287.7,149.4 C288.3,149.4 288.8,150.1 289.4,150.2 C290,150.3 290.7,149.7 291.3,149.8 C291.9,149.8 292.6,150.3 293.2,150.6 C293.8,150.9 294.5,151.4 295.1,151.5 C295.7,151.7 296.4,151 297,151.4 C297.6,151.8 298.3,153.7 299,154.2 C299.7,154.8 300.4,154.9 301,154.7 C301.6,154.5 302.3,153.1 302.9,152.8 C303.5,152.4 304.2,153.8 304.8,152.7 C305.4,151.6 306,145.6 306.5,146.4 C307,147.2 307.2,156.6 308,157.7 C308.8,158.8 310.3,153.6 311.1,152.7 C311.9,151.8 312.2,152.3 312.8,152.1 C313.3,151.9 313.9,151.1 314.4,151.3 C315,151.4 315.5,153.1 316.1,152.9 C316.7,152.8 317.2,150.9 317.8,150.4 C318.3,149.9 318.9,149.8 319.4,149.9 C320,149.9 320.5,150.7 321.1,150.7 C321.7,150.7 322.2,149.6 322.8,149.6 C323.3,149.6 323.9,150.1 324.4,150.5 C325,150.9 325.6,151.6 326.1,151.9 C326.7,152.1 327.2,151.9 327.8,151.9 C328.4,151.8 328.9,151.5 329.5,151.5 C330,151.6 330.6,152.2 331.1,152.3 C331.7,152.4 332.3,152.4 332.8,152.1 C333.4,151.9 333.9,150.9 334.5,150.6 C335,150.3 335.6,150 336.2,150.3 C336.7,150.6 337.3,152 337.8,152.3 C338.4,152.6 338.9,152.2 339.5,151.9 C340.1,151.5 340.6,150.1 341.2,150 C341.7,150 342.3,151.6 342.9,151.7 C343.4,151.9 344,151.1 344.5,151 C345.1,151 345.6,151.4 346.2,151.4 C346.8,151.4 347.3,151.1 347.9,151.1 C348.4,151 349,151.1 349.5,151 C350.1,150.9 350.7,150.7 351.2,150.5 C351.8,150.4 352.3,150.1 352.9,150.1 C353.5,150.2 354,150.7 354.6,150.8 C355.1,151 355.7,150.7 356.2,151 C356.8,151.3 357.4,152.7 357.9,152.6 C358.5,152.5 359,150.4 359.6,150.4 C360.1,150.4 360.7,152.6 361.3,152.6 C361.8,152.6 362.4,150.9 362.9,150.6 C363.5,150.4 364,150.8 364.6,151 C365.2,151.3 365.7,152 366.3,152.2 C366.8,152.4 367.4,152.4 368,152.2 C368.5,152.1 369.1,151.4 369.6,151.2 C370.2,151.1 370.7,151.5 371.3,151.4 C371.9,151.3 372.4,150.3 373,150.4 C373.5,150.4 374.1,151.4 374.6,151.6 C375.2,151.8 375.7,151.3 376.3,151.5 C376.9,151.8 377.4,153.1 378,153.1 C378.5,153.1 379.1,151.5 379.6,151.4 C380.2,151.2 380.7,151.6 381.3,151.9 C381.9,152.3 382.4,153.6 383,153.5 C383.5,153.4 384.1,151.5 384.6,151.4 C385.2,151.2 385.7,152.1 386.3,152.5 C386.9,152.9 387.4,153.5 388,153.7 C388.5,153.9 389.1,153.8 389.6,153.7 C390.2,153.7 390.7,153.4 391.3,153.2 C391.9,153 392.5,152.6 393.1,152.6 C393.7,152.6 394.3,153 394.9,153.3 C395.5,153.5 396.1,153.4 396.8,154 C397.4,154.6 398,156.5 398.6,156.8 C399.2,157.1 399.8,155.7 400.4,155.7 C401,155.8 401.6,156 402.2,157 C402.8,158 403.6,160.2 404.2,162 C404.8,163.8 405.1,166.4 405.5,168 C405.9,169.6 406.2,170.9 406.6,171.8 C407.1,172.7 407.6,173.2 408.2,173.3 C408.8,173.4 409.9,173.4 410.5,172.5 C411.1,171.6 411.4,169.5 412,168 C412.6,166.5 413.2,164.9 414,163.5 C414.8,162.1 415.9,160.3 416.6,159.6 C417.3,158.9 417.8,159.5 418.3,159.4 C418.9,159.3 419.5,159.4 420.1,159 C420.6,158.7 421,157.5 421.8,157.2 C422.6,156.9 424.2,157 425,157 C425.8,157 426.1,157.1 426.6,157.4 C427.2,157.6 427.7,158.5 428.3,158.6 C428.9,158.7 429.7,157.6 430.5,158 C431.3,158.4 432.3,160.9 433.2,160.8 C434.1,160.7 435.2,158.3 435.9,157.5 C436.6,156.7 437,156.4 437.5,156.1 C438.1,155.8 438.4,155.2 439.2,155.9 C440,156.6 441.4,159 442.4,160.3 C443.4,161.6 444.4,164.1 445.2,163.5 C446,162.9 446.7,157.7 447.4,157 C448.1,156.3 448.8,158.1 449.5,159.2 C450.2,160.3 451,162.5 451.7,163.5 C452.4,164.5 453.3,165.1 453.9,165.2 C454.5,165.3 455,164.9 455.5,164.2 C456.1,163.5 456.6,161.1 457.2,160.8 C457.8,160.5 458.9,160.7 459.4,162.4 C459.9,164.1 460,169.6 460.4,171.2 C460.8,172.8 461,172.7 461.5,171.7 C462,170.7 462.6,166.1 463.2,165.2 C463.8,164.3 464.8,166 465.4,166.3 C466,166.6 466.4,167.1 467,166.8 C467.6,166.5 468.6,164.5 469.2,164.6 C469.8,164.7 470.2,166.3 470.8,167.4 C471.4,168.5 472.3,171.1 473,171.2 C473.7,171.3 474.5,168.3 475.2,167.9 C475.9,167.5 476.6,168.4 477.3,169 C478,169.6 478.8,170.4 479.5,171.2 C480.2,172 481.1,173.5 481.7,173.9 C482.3,174.3 482.8,173.8 483.4,173.7 C483.9,173.5 484.4,172.8 485,172.8 C485.6,172.8 486.3,173.1 487,173.5 C487.7,174 488.2,176.1 489,175.5 C489.8,174.9 491.2,171.3 492,170 C492.8,168.7 493.3,168.7 494,167.8 C494.7,166.9 495.2,165 496,164.5 C496.8,164 497.7,164.1 498.5,165 C499.3,165.9 500.1,168.9 501,170 C501.9,171.1 503,170.7 504,171.5 C505,172.3 506,174.1 507,175 C508,175.9 509,177 510,177 C511,177 512.2,175.2 513,175 C513.8,174.8 514.3,176.3 515,175.5 C515.7,174.7 516.2,171.5 517,170 C517.8,168.5 519,166.8 520,166.5 C521,166.2 522,167.1 523,168.5 C524,169.9 525.2,174.6 526,175 C526.8,175.4 527.4,172.8 528,171 C528.6,169.2 529.2,165.2 529.5,164" stroke="#20e8f0"/>
<path d="M30.5,187.8 C30.8,187.7 31.6,187.4 32.2,187.3 C32.7,187.1 33.3,187.2 33.8,187 C34.4,186.8 34.9,186.2 35.5,186.3 C36.1,186.4 36.6,187.3 37.2,187.5 C37.7,187.7 38.3,187.7 38.8,187.5 C39.4,187.4 39.9,186.8 40.5,186.6 C41.1,186.4 41.7,186.3 42.3,186.3 C42.9,186.3 43.5,186.7 44.1,186.3 C44.7,185.9 45.3,184.5 45.9,184.1 C46.5,183.7 47.1,184 47.7,183.9 C48.3,183.9 48.9,183.8 49.5,183.8 C50.1,183.9 50.7,184.3 51.3,184.2 C51.9,184 52.5,182.8 53.1,182.8 C53.7,182.8 54.4,184.1 55,184.2 C55.6,184.4 56.2,183.8 56.9,183.8 C57.5,183.8 58.1,184 58.7,184.2 C59.4,184.5 60,185.1 60.6,185.3 C61.2,185.5 61.8,185.3 62.4,185.4 C63,185.4 63.6,185.4 64.2,185.7 C64.8,185.9 65.4,186.7 66,186.6 C66.6,186.6 67.2,185.4 67.8,185.5 C68.4,185.5 69,186.5 69.6,186.8 C70.2,187 70.8,186.9 71.4,186.8 C72,186.8 72.6,186.4 73.2,186.6 C73.8,186.8 74.3,187.5 74.9,187.7 C75.4,188 76,188.1 76.5,188.2 C77.1,188.3 77.6,188.2 78.2,188.3 C78.8,188.4 79.3,188.9 79.9,189 C80.4,189.1 81,188.9 81.5,189 C82.1,189.1 82.6,189.6 83.2,189.8 C83.8,190 84.3,189.8 84.9,190 C85.4,190.1 86,190.2 86.5,190.6 C87.1,190.9 87.6,191.7 88.2,191.8 C88.8,191.9 89.3,191.1 89.9,191 C90.4,191 91,191.5 91.5,191.8 C92.1,192 92.6,192.5 93.2,192.8 C93.8,193.1 94.3,193.4 94.9,193.3 C95.4,193.3 96,192.7 96.6,192.5 C97.1,192.3 97.7,192.3 98.2,192.3 C98.8,192.2 99.4,192.1 99.9,192.3 C100.5,192.5 101.1,193.1 101.6,193.3 C102.2,193.5 102.7,193.3 103.3,193.3 C103.9,193.3 104.5,193 105.1,193.2 C105.7,193.4 106.3,194.4 106.9,194.6 C107.5,194.8 108.1,194.6 108.7,194.6 C109.3,194.7 109.8,195.1 110.4,195 C111,194.9 111.6,194.1 112.2,193.9 C112.8,193.7 113.4,193.7 114,193.8 C114.6,194 115.2,194.7 115.8,194.8 C116.4,194.9 117,194.2 117.6,194.2 C118.2,194.3 118.8,194.9 119.4,195.1 C120,195.3 120.6,195.6 121.2,195.6 C121.8,195.6 122.4,195.4 123,195.3 C123.6,195.2 124.2,195 124.8,195 C125.4,195.1 126,195.4 126.6,195.5 C127.2,195.6 127.8,195.7 128.4,195.8 C129,195.9 129.6,195.9 130.2,195.9 C130.8,196 131.4,196 132,196 C132.6,196 133.2,196 133.8,196 C134.4,196.1 134.9,196.2 135.5,196.1 C136.1,196.1 136.7,196 137.3,195.7 C137.9,195.5 138.5,194.8 139.1,194.7 C139.7,194.6 140.3,195.1 140.9,195.3 C141.5,195.5 142.1,195.9 142.7,195.8 C143.3,195.8 143.9,194.9 144.5,194.8 C145.1,194.7 145.7,195.2 146.3,195.2 C146.9,195.2 147.4,194.8 148,194.8 C148.6,194.8 149.2,195.4 149.8,195.4 C150.4,195.3 151,194.4 151.6,194.3 C152.2,194.2 152.8,194.8 153.4,194.8 C154,194.8 154.6,194.3 155.2,194.1 C155.8,194 156.4,194 157,193.9 C157.6,193.8 158.2,193.4 158.8,193.5 C159.4,193.7 160,194.6 160.6,194.6 C161.2,194.7 161.8,194.1 162.4,193.9 C163,193.6 163.6,193.3 164.2,193.2 C164.8,193.1 165.4,193.3 166,193.3 C166.6,193.3 167.2,192.9 167.8,192.9 C168.3,193 168.9,193.9 169.5,193.9 C170.1,193.8 170.7,193.1 171.2,192.8 C171.8,192.5 172.4,192.1 173,192.1 C173.6,192.2 174.2,193 174.8,193 C175.3,193 175.9,192.4 176.5,192.3 C177.1,192.2 177.7,192.4 178.2,192.5 C178.8,192.6 179.4,193.2 180,193 C180.6,192.9 181.1,191.5 181.7,191.4 C182.3,191.2 182.9,191.8 183.5,192 C184.1,192.2 184.6,192.4 185.2,192.5 C185.8,192.6 186.4,192.6 187,192.5 C187.5,192.4 188.1,191.8 188.7,191.8 C189.3,191.8 189.9,192.6 190.4,192.4 C191,192.3 191.6,191 192.2,190.8 C192.8,190.6 193.3,191.1 193.9,191.1 C194.5,191.1 195.1,190.7 195.7,190.7 C196.2,190.7 196.8,191.1 197.4,191.3 C198,191.5 198.6,191.6 199.2,192 C199.7,192.5 200.3,192.9 200.9,193.9 C201.5,194.9 202.1,197.1 202.7,198.3 C203.2,199.4 203.7,199 204.4,200.9 C205.1,202.8 206.3,206.7 207,209.6 C207.7,212.5 208.2,216.3 208.7,218.3 C209.2,220.3 209.5,221.4 209.9,221.4 C210.3,221.4 210.6,220.9 211.3,218.3 C212,215.8 213.1,208.9 214,206.1 C214.9,203.2 216,201.2 216.9,201.2 C217.8,201.2 218.5,203.7 219.2,206.1 C219.9,208.5 220.3,215 220.9,215.7 C221.5,216.4 222.1,213.2 222.7,210.5 C223.3,207.8 223.7,201.8 224.4,199.2 C225.1,196.6 226.3,195.6 227,194.8 C227.7,194 228.2,194.4 228.7,194.4 C229.3,194.3 229.9,194.7 230.5,194.4 C231,194.2 231.6,193.4 232.2,193.1 C232.8,192.8 233.4,192.6 233.9,192.6 C234.5,192.6 235.1,193.3 235.7,193.2 C236.3,193.2 236.8,192.5 237.4,192.2 C238,192 238.6,191.7 239.2,191.6 C239.7,191.6 240.3,191.7 240.9,191.8 C241.5,191.9 242.1,192 242.7,192 C243.3,192.1 243.9,192.3 244.5,192 C245.1,191.7 245.8,190.4 246.4,190.3 C247,190.1 247.6,190.8 248.2,190.9 C248.8,190.9 249.4,190.5 250,190.4 C250.6,190.3 251.2,190.6 251.8,190.5 C252.4,190.3 253,189.7 253.6,189.6 C254.2,189.4 254.8,189.8 255.4,189.7 C256,189.6 256.6,189.2 257.2,189.1 C257.8,189 258.4,189.1 259,189.1 C259.6,189 260.2,188.9 260.8,189 C261.4,189 262,189.4 262.6,189.4 C263.2,189.5 263.8,189.2 264.4,189.1 C265,189 265.6,189.3 266.2,189.1 C266.8,188.9 267.4,188.3 268,188.1 C268.6,187.8 269.2,187.5 269.8,187.4 C270.4,187.4 270.9,187.6 271.5,187.8 C272.1,187.9 272.7,188.3 273.3,188.1 C273.9,188 274.5,187.1 275.1,187 C275.7,186.9 276.3,187.4 276.9,187.3 C277.5,187.2 278.1,186.9 278.7,186.7 C279.3,186.5 279.9,186.1 280.5,186.2 C281.1,186.2 281.7,187 282.3,187 C282.9,187 283.4,186.6 284,186.2 C284.6,185.9 285.2,185.3 285.8,185.1 C286.4,184.9 287,184.8 287.6,184.9 C288.2,184.9 288.8,185.3 289.4,185.3 C290,185.3 290.5,184.9 291,184.8 C291.6,184.7 292.1,184.8 292.7,184.7 C293.2,184.7 293.8,184.7 294.4,184.6 C294.9,184.5 295.4,184.3 296,184 C296.6,183.7 297.1,183.1 297.7,182.9 C298.2,182.6 298.8,182.6 299.3,182.6 C299.9,182.6 300.4,183.1 301,182.8 C301.6,182.5 302.3,181.5 302.9,180.7 C303.5,179.8 304.1,177.7 304.8,177.8 C305.5,177.9 306.6,180.8 307.3,181.5 C308,182.2 308.6,181.8 309.2,182 C309.8,182.2 310.5,182.7 311.1,182.8 C311.7,182.9 312.2,182.4 312.8,182.3 C313.3,182.2 313.9,182.1 314.4,182.3 C315,182.5 315.5,183.4 316.1,183.4 C316.7,183.3 317.2,182.3 317.8,182.1 C318.3,182 318.9,182.5 319.4,182.5 C320,182.5 320.5,182.4 321.1,182.3 C321.7,182.2 322.2,181.9 322.8,181.8 C323.3,181.7 323.9,181.6 324.4,181.7 C325,181.8 325.6,182.2 326.1,182.3 C326.7,182.4 327.2,182.5 327.8,182.3 C328.4,182.1 328.9,181.3 329.5,181 C330,180.6 330.6,180.4 331.1,180.4 C331.7,180.5 332.3,181.2 332.8,181.2 C333.4,181.1 333.9,180.3 334.5,180 C335,179.7 335.6,179.3 336.2,179.4 C336.7,179.6 337.3,180.8 337.8,180.8 C338.4,180.9 338.9,179.8 339.5,179.7 C340.1,179.6 340.6,180.3 341.2,180.2 C341.7,180.2 342.3,179.3 342.9,179.3 C343.4,179.2 344,180 344.5,179.9 C345.1,179.9 345.6,179.2 346.2,179 C346.8,178.8 347.3,178.9 347.9,178.8 C348.4,178.6 349,178.2 349.5,178.1 C350.1,177.9 350.7,177.6 351.2,177.6 C351.8,177.7 352.3,178.3 352.9,178.4 C353.5,178.6 354,178.4 354.6,178.4 C355.1,178.5 355.7,179 356.2,178.7 C356.8,178.5 357.4,177.2 357.9,177.1 C358.5,177 359,177.9 359.6,177.9 C360.1,177.9 360.7,177.4 361.3,177.3 C361.8,177.2 362.4,177.5 362.9,177.3 C363.5,177.2 364,176.7 364.6,176.5 C365.2,176.4 365.7,176.6 366.3,176.6 C366.8,176.7 367.4,176.7 368,176.9 C368.5,177 369.1,177.5 369.6,177.4 C370.2,177.4 370.7,176.8 371.3,176.5 C371.9,176.2 372.4,175.6 373,175.5 C373.5,175.4 374.1,175.8 374.6,175.9 C375.2,176 375.8,176.2 376.3,176.2 C376.9,176.3 377.4,176.5 378,176.2 C378.6,175.9 379.1,174.9 379.7,174.6 C380.2,174.2 380.8,174 381.3,174.1 C381.9,174.3 382.5,175.2 383,175.3 C383.6,175.5 384.1,175.3 384.7,175.1 C385.2,174.9 385.8,174.3 386.4,173.9 C386.9,173.6 387.5,172.9 388,172.9 C388.6,172.9 389.1,174.2 389.7,174.2 C390.3,174.2 390.8,173 391.4,172.9 C391.9,172.8 392.5,173.6 393.1,173.6 C393.6,173.6 394.2,173 394.7,172.8 C395.3,172.6 395.8,172.2 396.4,172.3 C397,172.4 397.8,173.4 398.5,173.5 C399.2,173.5 399.8,172.7 400.5,172.8 C401.2,172.9 401.8,172.3 402.6,174 C403.4,175.7 404.3,179 405.1,182.8 C405.9,186.6 406.9,194.9 407.6,196.6 C408.3,198.3 408.9,194.2 409.5,192.7 C410.1,191.2 410.8,189.3 411.4,187.8 C412,186.3 412.7,184.8 413.3,183.5 C413.9,182.3 414.5,180.9 415.2,180.3 C415.9,179.7 416.6,179.9 417.3,180 C418,180 418.6,180.6 419.3,180.6 C420,180.6 420.8,179.7 421.4,179.8 C422,179.9 422.5,181.2 423.1,181.4 C423.7,181.6 424.2,181 424.8,181.2 C425.4,181.5 425.9,183 426.5,182.8 C427.1,182.6 427.8,180.6 428.5,179.7 C429.2,178.9 429.8,178.4 430.5,177.7 C431.2,177 431.9,176.3 432.6,175.6 C433.4,175 434.1,174.4 434.8,173.9 C435.5,173.4 436.3,173 437,172.6 C437.7,172.1 438.5,171.5 439.2,171.2 C439.9,170.9 440.6,170.8 441.4,170.7 C442.1,170.6 442.8,171 443.5,170.6 C444.2,170.2 445,168.7 445.7,168 C446.4,167.4 447.2,166.6 447.9,166.8 C448.6,167 449.5,167.2 450.1,169 C450.7,170.8 451.2,175.4 451.7,177.7 C452.1,180 452.4,182.4 452.8,182.6 C453.2,182.8 453.8,179.9 454.4,178.8 C455,177.7 456,176.8 456.6,176.1 C457.2,175.4 457.7,174.9 458.2,174.5 C458.8,174.2 459.3,174.3 459.9,173.9 C460.5,173.5 461.4,172.4 462.1,172.3 C462.8,172.2 463.5,173.1 464.2,173.4 C465,173.6 465.7,173.5 466.4,173.6 C467.1,173.7 467.9,174 468.6,173.9 C469.3,173.8 470.1,173.3 470.8,172.8 C471.5,172.3 472.3,171.4 473,171.2 C473.7,170.9 474.5,171.1 475.2,171.2 C475.9,171.3 476.6,171.5 477.4,171.6 C478.1,171.6 478.8,171.4 479.5,171.7 C480.2,172 480.7,172.9 481.3,173.1 C481.9,173.3 482.6,172.5 483.2,172.7 C483.8,173 484.4,173.9 485,174.5 C485.6,175.1 486.3,176.1 487,176.6 C487.7,177.1 488.3,177.5 489,177.5 C489.7,177.5 490.3,176.5 491,176.3 C491.7,176.1 492.2,176.1 493,176.5 C493.8,176.9 495,177.4 496,178.5 C497,179.6 498,181.7 499,183 C500,184.3 501.2,186 502,186.2 C502.8,186.4 503.3,184.8 504,184 C504.7,183.2 505.2,181.5 506,181.5 C506.8,181.5 508.2,182.9 509,184 C509.8,185.1 510.2,187.2 511,188 C511.8,188.8 513.2,188.8 514,189 C514.8,189.2 515.3,189.3 516,189.3 C516.7,189.4 517.2,188.9 518,189.5 C518.8,190.1 520,191.2 521,193 C522,194.8 523.2,199.5 524,200 C524.8,200.5 525.4,196.8 526,196 C526.6,195.2 527.2,195.6 527.8,195.2 C528.3,194.9 529.2,194.2 529.5,194" stroke="#f0f000"/>
<path d="M30.5,217.1 C30.8,217 31.6,216.7 32.2,216.7 C32.7,216.6 33.3,216.7 33.8,216.7 C34.4,216.7 34.9,216.9 35.5,216.8 C36.1,216.8 36.6,216.5 37.2,216.4 C37.7,216.4 38.3,216.7 38.8,216.7 C39.4,216.7 39.9,216.4 40.5,216.3 C41.1,216.2 41.7,216.3 42.3,216.3 C42.9,216.4 43.5,216.5 44.1,216.4 C44.7,216.4 45.3,215.8 45.9,215.9 C46.5,216 47.1,216.8 47.7,216.9 C48.3,217.1 48.9,216.9 49.5,216.9 C50.1,216.8 50.7,216.5 51.3,216.6 C51.9,216.6 52.5,217 53.1,217.1 C53.7,217.2 54.3,217.3 54.9,217.2 C55.5,217.2 56.1,217.2 56.7,217 C57.3,216.8 57.9,216.4 58.5,216.2 C59.1,215.9 59.6,215.5 60.2,215.4 C60.8,215.4 61.4,215.7 62,215.6 C62.6,215.5 63.2,214.8 63.8,214.8 C64.4,214.7 65,215.3 65.6,215.1 C66.2,214.9 67,214.1 67.7,213.8 C68.4,213.6 69.1,213.8 69.8,213.7 C70.5,213.5 71.1,212.7 71.9,213.1 C72.7,213.5 73.7,215.7 74.4,216.3 C75.1,216.9 75.7,216.5 76.3,216.9 C76.9,217.3 77.6,218.2 78.2,218.8 C78.8,219.4 79.4,220 80.1,220.6 C80.7,221.2 81.3,222.2 81.9,222.6 C82.5,223 83,223.2 83.6,223.3 C84.2,223.4 84.7,223 85.3,223.2 C85.9,223.4 86.4,224.2 87,224.6 C87.6,225 88.1,225.5 88.7,225.7 C89.2,225.9 89.8,225.4 90.3,225.7 C90.9,225.9 91.3,226.1 92,227.2 C92.7,228.3 93.6,232.4 94.3,232.3 C95,232.2 95.6,227.2 96.2,226.4 C96.8,225.6 97.4,227.3 98,227.7 C98.6,228.1 99.2,228.4 99.8,228.7 C100.3,228.9 100.9,229 101.5,229.2 C102.1,229.4 102.7,230 103.3,230.1 C103.9,230.2 104.5,229.8 105.2,230 C105.8,230.2 106.4,231.1 107,231.4 C107.7,231.7 108.3,231.6 108.9,231.8 C109.5,232 110.2,232.2 110.8,232.6 C111.4,233 111.9,234 112.5,234.2 C113,234.3 113.6,233.5 114.1,233.7 C114.7,233.8 115.2,234.7 115.8,235.1 C116.4,235.5 117,235.8 117.7,236 C118.3,236.2 118.9,236.5 119.5,236.5 C120.2,236.6 120.8,236.5 121.4,236.4 C122,236.4 122.7,236.3 123.3,236.4 C123.9,236.5 124.4,237 125,236.9 C125.5,236.8 126.1,235.9 126.7,235.9 C127.2,236 127.8,237.1 128.3,237.2 C128.9,237.3 129.5,236.4 130,236.4 C130.6,236.4 131.2,237.1 131.7,237.1 C132.3,237.1 132.8,236.4 133.4,236.4 C134,236.4 134.5,237 135.1,236.8 C135.6,236.7 136.2,235.5 136.7,235.4 C137.3,235.3 137.8,236.1 138.4,236.2 C139,236.3 139.5,236.5 140.1,236.2 C140.6,236 141.2,234.8 141.7,234.6 C142.3,234.4 142.8,235.1 143.4,235.1 C144,235.1 144.5,234.7 145.1,234.7 C145.6,234.7 146.2,235.2 146.7,235.1 C147.3,235 147.8,234 148.4,234 C149,233.9 149.5,235 150.1,234.9 C150.6,234.9 151.2,233.9 151.7,233.7 C152.3,233.6 152.8,233.9 153.4,233.9 C154,233.9 154.6,234.1 155.2,233.9 C155.8,233.6 156.4,232.5 157,232.2 C157.6,232 158.2,232.2 158.8,232.3 C159.4,232.3 160,232.7 160.6,232.4 C161.2,232.1 161.8,231.1 162.4,230.7 C163,230.4 163.6,230.4 164.2,230.3 C164.8,230.2 165.4,230.2 166,230.1 C166.6,230 167.2,229.8 167.8,229.6 C168.3,229.4 168.9,229.1 169.5,228.8 C170.1,228.5 170.7,228.1 171.2,227.9 C171.8,227.7 172.4,227.7 173,227.6 C173.6,227.5 174.2,227.1 174.8,227.1 C175.3,227 175.9,227 176.5,227.1 C177.1,227.2 177.7,227.6 178.2,227.6 C178.8,227.6 179.4,227 180,227 C180.6,226.9 181.1,227.3 181.7,227.1 C182.3,226.9 182.9,225.8 183.5,225.7 C184.1,225.6 184.6,226.6 185.2,226.5 C185.8,226.4 186.4,225.3 187,225.2 C187.5,225.1 188.1,225.5 188.7,225.6 C189.3,225.7 189.9,225.8 190.4,225.9 C191,226.1 191.6,226.3 192.2,226.4 C192.8,226.4 193.4,226.1 193.9,226.2 C194.5,226.3 195.1,226.1 195.7,226.7 C196.3,227.3 196.9,229.1 197.4,230 C198,231 198.5,230.1 199.2,232.2 C199.9,234.3 201.1,239.1 201.8,242.7 C202.5,246.3 202.8,249.4 203.5,253.9 C204.2,258.4 205.4,265.8 206.1,269.6 C206.8,273.4 207.2,276 207.9,276.9 C208.6,277.8 209.2,277.8 210,274.8 C210.8,271.9 211.8,263.6 212.7,259.2 C213.6,254.8 214.8,248.7 215.7,248.4 C216.6,248.1 217.5,254.3 218.3,257.4 C219.1,260.5 219.8,266.4 220.4,267 C221,267.6 221.3,265.4 221.8,260.9 C222.3,256.4 222.8,245.3 223.5,240 C224.2,234.7 225.3,231 226.1,228.8 C226.9,226.6 227.6,227.4 228.3,226.7 C229,226 229.8,224.8 230.5,224.4 C231.2,224 231.7,224.1 232.2,224 C232.8,224 233.4,224.3 234,224 C234.5,223.8 235.1,222.4 235.7,222.3 C236.3,222.2 236.9,223.3 237.4,223.3 C238,223.2 238.6,222.5 239.2,222.2 C239.7,221.9 240.3,221.7 240.9,221.5 C241.5,221.3 242.1,221 242.7,221 C243.3,220.9 243.9,221.4 244.5,221.3 C245.1,221.1 245.8,220.1 246.4,220 C247,220 247.6,220.9 248.2,220.8 C248.8,220.8 249.4,219.9 250,219.7 C250.6,219.5 251.2,219.6 251.8,219.5 C252.4,219.4 253,218.9 253.6,218.8 C254.2,218.8 254.8,219.2 255.4,219.1 C256,219.1 256.6,218.6 257.2,218.3 C257.8,218 258.4,217.6 259,217.6 C259.6,217.5 260.2,218.3 260.8,218.1 C261.4,218 262,216.9 262.6,216.7 C263.2,216.5 263.8,217 264.4,217.1 C265,217.2 265.6,217.5 266.2,217.4 C266.8,217.3 267.4,216.4 268,216.3 C268.6,216.2 269.2,216.6 269.8,216.7 C270.4,216.8 270.9,217.1 271.5,217 C272.1,216.9 272.7,216.3 273.3,216.2 C273.9,216 274.5,216.2 275.1,216.1 C275.7,216 276.3,215.8 276.9,215.6 C277.5,215.4 278.1,215.3 278.7,215.2 C279.3,215 279.9,214.6 280.5,214.5 C281.1,214.4 281.7,214.4 282.3,214.4 C282.9,214.4 283.4,214.4 284,214.5 C284.6,214.6 285.2,215 285.8,215.1 C286.4,215.1 287,214.7 287.6,214.6 C288.2,214.6 288.8,214.6 289.4,214.6 C290,214.6 290.5,214.4 291,214.4 C291.6,214.5 292.1,215 292.7,214.8 C293.2,214.7 293.8,213.6 294.4,213.4 C294.9,213.2 295.4,213.9 296,213.8 C296.6,213.7 297.1,213.1 297.7,213 C298.2,212.9 298.8,213.3 299.3,213.2 C299.9,213.2 300.5,213.3 301,212.6 C301.5,211.9 302.1,208.8 302.5,209 C302.9,209.2 303,214.2 303.3,214 C303.6,213.8 303.9,207.6 304.2,207.5 C304.5,207.4 304.7,213.4 305,213.5 C305.3,213.6 305.7,208 306,207.8 C306.3,207.6 306.6,211.6 307,212.5 C307.4,213.4 308,213.2 308.5,213.1 C309,213 309.6,212.2 310.2,212 C310.8,211.8 311.3,211.6 311.9,211.6 C312.5,211.7 313,212.1 313.6,212.1 C314.2,212.1 314.9,211.8 315.5,211.7 C316.1,211.5 316.7,211.1 317.4,211.1 C318,211 318.6,211.2 319.2,211.3 C319.9,211.3 320.5,211.4 321.1,211.3 C321.7,211.2 322.2,210.7 322.8,210.6 C323.3,210.6 323.9,210.9 324.4,210.9 C325,211 325.6,210.9 326.1,210.7 C326.7,210.5 327.2,209.9 327.8,209.8 C328.4,209.8 328.9,210.3 329.5,210.3 C330,210.3 330.6,210 331.1,209.8 C331.7,209.6 332.3,208.9 332.8,209 C333.4,209 333.9,210.1 334.5,210 C335,210 335.6,209 336.2,208.7 C336.7,208.4 337.3,208.4 337.8,208.3 C338.4,208.2 338.9,207.9 339.5,207.9 C340.1,208 340.6,208.4 341.2,208.6 C341.7,208.7 342.3,208.7 342.9,208.7 C343.4,208.6 344,208.5 344.5,208.3 C345.1,208.1 345.6,207.8 346.2,207.6 C346.8,207.4 347.3,207.3 347.9,207.1 C348.4,206.9 349,206.8 349.5,206.5 C350.1,206.3 350.7,205.8 351.2,205.8 C351.8,205.8 352.3,206.4 352.9,206.5 C353.5,206.5 354,206.2 354.6,206 C355.1,205.8 355.7,205.4 356.2,205.3 C356.8,205.2 357.4,205.5 357.9,205.5 C358.5,205.4 359,204.8 359.6,204.8 C360.1,204.8 360.7,205.3 361.3,205.2 C361.8,205.2 362.4,204.9 362.9,204.6 C363.5,204.3 364,203.5 364.6,203.5 C365.2,203.4 365.7,204.3 366.3,204.2 C366.8,204 367.4,202.7 368,202.5 C368.5,202.2 369.1,202.9 369.6,202.9 C370.2,202.9 370.7,202.7 371.3,202.5 C371.9,202.3 372.4,202.1 373,201.8 C373.5,201.6 374.1,201.3 374.6,201.1 C375.2,200.8 375.7,200.3 376.3,200.3 C376.9,200.3 377.4,201.1 378,200.9 C378.5,200.8 379.1,199.4 379.6,199.2 C380.2,199 380.7,199.5 381.3,199.6 C381.9,199.7 382.4,200 383,199.7 C383.5,199.4 384.1,198.2 384.6,197.9 C385.2,197.6 385.7,198.2 386.3,198 C386.9,197.8 387.5,197.2 388.1,197 C388.6,196.9 389.2,197.3 389.8,197.2 C390.4,197.1 391,196.7 391.6,196.5 C392.2,196.4 392.8,196.4 393.3,196.2 C393.9,196.1 394.4,195.4 395.1,195.5 C395.8,195.6 396.5,196.7 397.2,197 C398,197.3 398.8,196.9 399.4,197.5 C400,198.1 400.5,199.5 401,200.8 C401.5,202 402,201.5 402.6,205.1 C403.2,208.7 403.8,214.7 404.4,222.6 C405,230.5 405.9,245.1 406.4,252.7 C406.9,260.3 407.1,267.5 407.6,268.3 C408.1,269.1 408.7,262.8 409.4,257.7 C410.1,252.6 411.1,243.3 411.9,237.7 C412.7,232.1 413.6,227.3 414.4,223.9 C415.1,220.5 415.6,217.8 416.4,217.1 C417.1,216.4 418,218.7 418.9,219.6 C419.8,220.5 421,222.9 421.9,222.6 C422.8,222.3 423.1,219.5 424,217.6 C424.9,215.7 426,213.1 427,211 C428,208.9 429.2,206.5 430,205 C430.8,203.5 431.1,203.1 431.7,202.2 C432.2,201.3 432.8,200.5 433.3,199.7 C433.9,198.9 434.4,198.3 435,197.5 C435.6,196.7 436.3,195.5 436.9,194.9 C437.5,194.3 438.1,194.3 438.8,193.8 C439.5,193.3 440.6,191.6 441.3,192 C442,192.4 442.4,196.2 443,196.3 C443.6,196.4 444.2,193.6 445,192.5 C445.8,191.4 447.2,189.1 448,189.5 C448.8,189.9 449.4,191.6 450,195 C450.6,198.4 450.9,205.4 451.3,210 C451.7,214.6 452,221.8 452.6,222.6 C453.2,223.4 454.4,217 455.1,215.1 C455.8,213.2 456.3,212.8 457,211.3 C457.6,209.9 458.3,206.7 458.8,206.3 C459.3,205.9 459.5,209.5 460.1,208.8 C460.7,208.1 461.8,202.4 462.6,202 C463.4,201.6 464.3,204.8 465.1,206.3 C465.9,207.9 466.8,210.7 467.6,211.3 C468.4,211.9 469.4,210.4 470.1,210.1 C470.8,209.8 471.4,209.7 472,209.3 C472.6,208.9 473.3,207.6 473.9,207.6 C474.5,207.6 475.1,208.8 475.8,209.2 C476.4,209.6 477,209.6 477.6,210.1 C478.2,210.6 478.9,211.4 479.5,212.4 C480.1,213.4 480.7,213.8 481.4,216.3 C482.1,218.8 483.1,225.9 483.9,227.6 C484.7,229.3 485.6,225.7 486.4,226.3 C487.2,226.9 488.1,231 488.9,231.4 C489.7,231.8 490.7,228.6 491.4,228.8 C492.1,229 492.7,231.5 493.3,232.5 C493.9,233.6 494.6,234 495.2,235.1 C495.8,236.2 496.3,237.7 496.9,238.8 C497.4,239.9 498,240.7 498.5,241.7 C499.1,242.8 499.6,245 500.2,245.1 C500.8,245.2 501.4,243.4 502,242.4 C502.7,241.4 503.3,240.2 503.9,238.9 C504.5,237.6 505,235.9 505.5,234.4 C506.1,233 506.5,229.2 507.2,230.1 C507.9,231 508.8,238 509.7,240.1 C510.6,242.2 511.8,242.8 512.7,242.6 C513.6,242.4 514.5,239.3 515.2,238.9 C515.9,238.5 516.5,239.7 517.1,240.3 C517.7,240.9 518.3,241.2 519,242.6 C519.7,244 520.8,247.5 521.5,248.9 C522.2,250.3 522.6,249.9 523.1,250.8 C523.6,251.6 524.1,254.1 524.7,253.9 C525.3,253.7 525.7,250.8 526.5,249.6 C527.3,248.3 529,246.9 529.5,246.4" stroke="#808010"/>
<path d="M30.5,258.2 C30.8,258.1 31.6,257.9 32.2,257.7 C32.7,257.6 33.3,257.3 33.8,257.3 C34.4,257.3 34.9,257.4 35.5,257.5 C36.1,257.6 36.6,257.8 37.2,257.8 C37.7,257.8 38.3,257.7 38.8,257.6 C39.4,257.5 39.9,257.1 40.5,257.2 C41.1,257.3 41.8,257.9 42.4,258.1 C43,258.3 43.7,258.3 44.3,258.4 C44.9,258.4 45.6,258.2 46.2,258.3 C46.8,258.4 47.5,259 48.1,259 C48.7,259 49.2,258.7 49.8,258.5 C50.3,258.3 50.9,257.9 51.4,257.7 C52,257.5 52.5,257.3 53.1,257.2 C53.7,257.1 54.4,257.2 55,257 C55.6,256.9 56.2,256.5 56.9,256.2 C57.5,256 58.1,255.6 58.7,255.4 C59.4,255.2 60,255.2 60.6,255.2 C61.2,255.2 61.8,255.5 62.4,255.7 C63,255.8 63.6,256.3 64.2,256.3 C64.8,256.3 65.4,255.6 66,255.7 C66.6,255.8 67.2,256.7 67.8,256.8 C68.4,256.9 69,256.1 69.6,256 C70.2,256 70.8,256.4 71.4,256.6 C72,256.8 72.6,256.9 73.2,257.2 C73.8,257.5 74.3,257.8 74.9,258.3 C75.4,258.8 76,259.8 76.5,260.4 C77.1,260.9 77.5,260.5 78.2,261.5 C78.9,262.5 80,266.3 80.7,266.5 C81.5,266.7 82.1,262.9 82.7,262.7 C83.3,262.5 83.9,264.6 84.5,265.3 C85.1,266.1 85.8,266.6 86.4,267.2 C87,267.8 87.6,268.4 88.2,269 C88.8,269.6 89.5,270.1 90.1,270.7 C90.7,271.3 91.4,271.9 92,272.8 C92.6,273.7 93.1,275.7 93.7,275.8 C94.3,275.9 95.1,273.5 95.7,273.3 C96.3,273.1 97,274.2 97.6,274.4 C98.2,274.6 98.9,274.3 99.5,274.3 C100.1,274.4 100.8,274.6 101.4,274.9 C102,275.1 102.7,275.5 103.3,275.8 C103.9,276.1 104.4,276.5 105,276.7 C105.5,276.9 106.1,276.7 106.6,276.8 C107.2,276.9 107.7,277.1 108.3,277.3 C108.9,277.4 109.4,277.5 110,277.7 C110.5,277.9 111.1,278.4 111.6,278.5 C112.2,278.6 112.7,278.3 113.3,278.3 C113.9,278.3 114.4,278.3 115,278.4 C115.5,278.6 116.1,278.9 116.7,279 C117.2,279.1 117.8,279 118.3,279 C118.9,279.1 119.5,279.4 120,279.4 C120.6,279.4 121.1,279 121.7,279.1 C122.2,279.1 122.8,279.5 123.4,279.6 C123.9,279.7 124.5,279.6 125,279.6 C125.6,279.5 126.2,279.4 126.7,279.4 C127.3,279.4 127.8,279.8 128.4,279.8 C129,279.8 129.6,279.4 130.2,279.3 C130.8,279.3 131.4,279.8 132,279.7 C132.6,279.7 133.2,278.9 133.8,279 C134.4,279 134.9,279.9 135.5,279.8 C136.1,279.8 136.7,279 137.3,278.8 C137.9,278.6 138.5,278.5 139.1,278.5 C139.7,278.6 140.3,279 140.9,279 C141.5,279 142.1,278.4 142.7,278.4 C143.3,278.5 143.9,279.3 144.5,279.3 C145.1,279.3 145.7,278.7 146.3,278.5 C146.9,278.3 147.4,278.3 148,278.2 C148.6,278.1 149.2,278 149.8,277.9 C150.4,277.9 151,277.8 151.6,277.8 C152.2,277.9 152.8,278.2 153.4,278.3 C154,278.4 154.6,278.4 155.2,278.4 C155.8,278.4 156.4,278.2 157,278.2 C157.6,278.1 158.2,278.1 158.8,278.1 C159.4,278.1 160,278.2 160.6,278 C161.2,277.8 161.8,277.1 162.4,277.1 C163,277 163.6,277.5 164.2,277.6 C164.8,277.6 165.4,277.4 166,277.3 C166.6,277.2 167.2,276.9 167.8,276.8 C168.3,276.8 168.9,277 169.5,277 C170.1,277 170.7,276.8 171.2,276.7 C171.8,276.6 172.4,276.7 173,276.4 C173.6,276.2 174.2,275.3 174.8,275.1 C175.3,274.9 175.9,275.2 176.5,275.3 C177.1,275.4 177.7,275.4 178.2,275.4 C178.8,275.4 179.4,275.3 180,275.2 C180.6,275.1 181.1,275.2 181.7,274.9 C182.3,274.6 182.9,273.8 183.5,273.6 C184.1,273.3 184.6,273.5 185.2,273.4 C185.8,273.3 186.4,273 187,272.9 C187.5,272.9 188.1,273.1 188.7,273.1 C189.3,273.1 189.9,272.8 190.4,273 C191,273.1 191.5,273.3 192.2,274 C192.9,274.7 193.9,277.1 194.8,277.4 C195.7,277.7 196.5,275.3 197.4,275.7 C198.3,276.1 199.3,278.3 200,280 C200.7,281.7 201.1,284.5 201.8,286.1 C202.5,287.7 203.5,288.7 204.4,289.6 C205.3,290.5 206.2,290.7 207,291.4 C207.8,292.1 208.6,294.1 209.3,294 C210,293.9 210.5,292.1 211.3,290.5 C212.1,288.9 213.3,285.7 214,284.4 C214.7,283.1 215,282.7 215.7,282.7 C216.4,282.7 217.2,283.4 218,284.4 C218.8,285.4 219.6,289.2 220.4,288.8 C221.2,288.4 221.9,284.4 222.7,281.8 C223.5,279.2 224.6,274.9 225.3,273.1 C226,271.3 226.5,271.8 227.1,270.9 C227.6,270.1 228.2,268.4 228.8,267.9 C229.4,267.4 230,267.9 230.5,267.7 C231.1,267.6 231.7,267.2 232.2,267 C232.8,266.8 233.4,266.9 234,266.7 C234.5,266.5 235.1,266 235.7,265.8 C236.3,265.6 236.9,265.8 237.4,265.6 C238,265.4 238.6,265.1 239.2,264.8 C239.8,264.6 240.4,264.3 240.9,264.3 C241.5,264.2 242.1,264.5 242.7,264.4 C243.3,264.3 243.9,263.6 244.5,263.5 C245.1,263.4 245.7,263.9 246.3,263.8 C247,263.7 247.6,262.9 248.2,262.7 C248.8,262.5 249.4,262.7 250,262.6 C250.6,262.5 251.2,262.2 251.8,262 C252.4,261.9 253,262 253.6,261.8 C254.2,261.6 254.8,261.1 255.4,260.9 C256,260.8 256.6,260.9 257.2,260.9 C257.8,260.8 258.4,260.6 259,260.5 C259.6,260.5 260.2,260.8 260.8,260.7 C261.4,260.6 262,260.1 262.6,259.9 C263.2,259.7 263.8,259.8 264.4,259.7 C265,259.6 265.5,259.3 266.1,259.4 C266.6,259.4 267.2,260 267.7,260 C268.3,260 268.8,259.4 269.4,259.3 C270,259.2 270.5,259.6 271.1,259.6 C271.6,259.6 272.2,259.4 272.7,259.2 C273.3,259 273.8,258.4 274.4,258.3 C275,258.3 275.5,258.6 276.1,258.7 C276.6,258.7 277.2,258.5 277.7,258.6 C278.3,258.6 278.8,258.9 279.4,258.8 C280,258.8 280.5,258.2 281.1,258.2 C281.6,258.1 282.2,258.5 282.7,258.5 C283.3,258.5 283.8,258.3 284.4,258.1 C285,258 285.5,257.6 286.1,257.6 C286.6,257.6 287.2,258.3 287.7,258.3 C288.3,258.3 288.8,257.9 289.4,257.7 C290,257.5 290.5,257.1 291,257.1 C291.6,257.1 292.1,257.9 292.7,257.8 C293.2,257.8 293.8,257 294.4,256.9 C294.9,256.8 295.4,257.3 296,257.2 C296.6,257.1 297.1,256.5 297.7,256.4 C298.2,256.2 298.8,256.4 299.3,256.4 C299.9,256.4 300.6,256.8 301,256.5 C301.4,256.2 301.5,253.8 301.8,254.3 C302.1,254.9 302.3,259.6 302.6,259.8 C302.9,260 303.2,255.7 303.5,255.5 C303.8,255.3 304.1,258.2 304.5,258.5 C304.9,258.8 305.5,257.4 306,257.2 C306.5,257 307.1,257.4 307.7,257.4 C308.2,257.5 308.8,257.8 309.4,257.6 C309.9,257.4 310.5,256.5 311,256.4 C311.6,256.2 312.2,256.8 312.7,256.9 C313.3,256.9 313.8,256.8 314.4,256.8 C314.9,256.8 315.5,257.2 316.1,257.1 C316.6,257 317.2,256.4 317.7,256.3 C318.3,256.2 318.9,256.5 319.4,256.6 C320,256.6 320.5,256.6 321.1,256.5 C321.7,256.4 322.2,256.2 322.8,256.2 C323.3,256.3 323.9,256.8 324.4,256.7 C325,256.7 325.6,256 326.1,256 C326.7,255.9 327.2,256.7 327.8,256.7 C328.4,256.7 328.9,256 329.5,255.8 C330,255.6 330.6,255.6 331.1,255.6 C331.7,255.7 332.3,256.1 332.8,256.1 C333.4,256.2 333.9,256 334.5,255.8 C335,255.7 335.6,255.3 336.2,255.3 C336.7,255.3 337.3,255.8 337.8,255.8 C338.4,255.8 338.9,255 339.5,255 C340.1,255 340.6,255.7 341.2,255.8 C341.7,255.9 342.3,255.6 342.9,255.6 C343.4,255.6 344,255.7 344.5,255.6 C345.1,255.6 345.6,255.3 346.2,255.2 C346.8,255.1 347.3,255.3 347.9,255.3 C348.4,255.2 349,254.9 349.5,254.9 C350.1,254.8 350.7,254.9 351.2,254.8 C351.8,254.8 352.3,254.7 352.9,254.8 C353.5,254.8 354,255.4 354.6,255.3 C355.1,255.2 355.7,254.3 356.2,254.2 C356.8,254.2 357.4,255.1 357.9,255.1 C358.5,255.1 359,254.2 359.6,254 C360.1,253.8 360.7,254.1 361.3,254.1 C361.8,254.1 362.4,254 362.9,254.1 C363.5,254.2 364,254.8 364.6,254.8 C365.2,254.8 365.7,254.4 366.3,254.2 C366.8,254.1 367.4,254 368,254 C368.5,254.1 369.1,254.5 369.6,254.5 C370.2,254.5 370.7,254.2 371.3,254 C371.9,253.8 372.5,253.6 373.1,253.6 C373.6,253.6 374.2,253.8 374.8,253.8 C375.4,253.8 376,253.8 376.6,253.8 C377.1,253.8 377.7,254 378.3,254 C378.9,254 379.5,254 380.1,253.9 C380.6,253.9 381.2,253.8 381.8,253.7 C382.4,253.6 383,253.3 383.6,253.3 C384.1,253.2 384.7,253.2 385.3,253.2 C385.9,253.1 386.5,252.9 387.1,252.9 C387.6,252.9 388.2,253 388.8,253.2 C389.4,253.4 390.2,253.9 390.9,254.1 C391.6,254.3 392.3,254.3 393,254.4 C393.7,254.5 394.4,254.1 395.1,254.7 C395.8,255.3 396.4,256.8 397,257.7 C397.6,258.7 398.2,258.1 398.9,260.2 C399.6,262.3 400.6,266.5 401.4,270.3 C402.1,274.1 402.9,279.7 403.4,282.8 C403.9,285.9 403.9,289.5 404.6,289.1 C405.3,288.7 406.8,282 407.6,280.3 C408.4,278.6 408.7,279.4 409.3,279.1 C409.9,278.8 410.4,278.8 411,278.6 C411.6,278.3 412.1,277.9 412.7,277.8 C413.3,277.7 413.8,277.8 414.4,277.7 C414.9,277.6 415.5,277.3 416,277.1 C416.6,276.9 417.1,276.5 417.7,276.6 C418.3,276.7 418.9,277.2 419.5,277.8 C420.2,278.3 420.8,279.3 421.4,279.8 C422,280.3 422.5,280.2 423.1,280.6 C423.7,280.9 424.2,281.6 424.8,281.9 C425.4,282.2 425.9,282.3 426.5,282.3 C427.1,282.3 427.8,281.9 428.5,281.7 C429.2,281.6 429.8,281.4 430.5,281.4 C431.2,281.4 431.8,281.7 432.5,281.5 C433.2,281.3 433.9,280.4 434.6,280 C435.3,279.6 436,279.6 436.7,279.2 C437.4,278.8 438.1,278.2 438.8,277.7 C439.5,277.2 440,276.9 440.6,276.3 C441.3,275.6 441.8,274.7 442.5,274 C443.2,273.3 444,272.7 444.8,272.3 C445.5,271.9 446.1,271.1 447,271.4 C447.9,271.7 449.1,272.5 450,274 C450.9,275.5 451.9,279.3 452.6,280.2 C453.3,281.1 453.8,279.4 454.5,279.2 C455.1,279 455.6,279 456.3,279 C457,279 457.7,279 458.4,279.1 C459.1,279.2 459.8,279.4 460.5,279.6 C461.2,279.8 461.9,280.2 462.6,280.2 C463.3,280.2 463.9,280 464.5,279.7 C465.1,279.5 465.7,279 466.4,278.8 C467,278.6 467.6,278.6 468.2,278.5 C468.9,278.4 469.5,278.4 470.1,278.2 C470.7,278 471.2,277.4 471.8,277.3 C472.3,277.2 472.9,277.8 473.4,277.6 C474,277.5 474.5,276.5 475.1,276.5 C475.7,276.5 476.4,277.3 477,277.4 C477.6,277.5 478.2,277 478.9,277.3 C479.5,277.5 480.1,278.6 480.7,278.9 C481.4,279.2 482,279 482.6,279 C483.2,279 483.7,278.6 484.3,278.6 C484.8,278.7 485.4,278.9 486,279.1 C486.5,279.3 487.1,279.8 487.6,279.9 C488.2,280.1 488.8,279.8 489.3,279.8 C489.9,279.8 490.5,279.9 491,279.9 C491.6,279.8 492.1,279.7 492.7,279.7 C493.3,279.7 493.9,280 494.6,280.1 C495.2,280.2 495.8,280 496.4,280.2 C497.1,280.4 497.7,281 498.3,281.2 C498.9,281.4 499.6,281.6 500.2,281.5 C500.8,281.4 501.4,280.9 502.1,280.7 C502.7,280.5 503.3,280.5 503.9,280.5 C504.6,280.4 505.2,280.4 505.8,280.4 C506.4,280.3 507.1,280.2 507.7,280.2 C508.3,280.2 508.9,280.1 509.6,280.3 C510.2,280.5 510.8,281 511.5,281.3 C512.1,281.7 512.7,282.2 513.3,282.4 C514,282.7 514.6,282.6 515.2,282.7 C515.8,282.8 516.5,283.1 517.1,283.3 C517.7,283.4 518.3,283.3 519,283.4 C519.6,283.4 520.2,283.7 520.8,283.8 C521.5,283.9 522,283.6 522.7,284 C523.4,284.4 524.4,286.2 525.2,286.5 C526,286.8 526.6,286 527.4,285.8 C528.1,285.6 529.1,285.3 529.5,285.2" stroke="#000000"/>
<path d="M30.5,327.1 C30.8,327 31.6,326.5 32.2,326.5 C32.7,326.5 33.3,327 33.8,327 C34.4,327 34.9,326.6 35.5,326.6 C36.1,326.6 36.6,326.9 37.2,327 C37.7,327 38.3,327.2 38.8,327.1 C39.4,327 39.9,326.6 40.5,326.4 C41.1,326.2 41.6,326 42.2,325.9 C42.8,325.7 43.3,325.8 43.9,325.6 C44.5,325.5 45,325.2 45.6,325.1 C46.2,325 46.9,325.1 47.5,324.8 C48.1,324.6 48.7,324.1 49.4,323.7 C50,323.4 50.6,323 51.2,322.8 C51.9,322.7 52.5,322.7 53.1,322.6 C53.7,322.5 54.2,322.5 54.8,322.5 C55.3,322.4 55.9,322.5 56.4,322.3 C57,322.1 57.5,321.3 58.1,321.3 C58.7,321.3 59.2,321.9 59.8,322.1 C60.3,322.3 60.9,322.4 61.4,322.4 C62,322.5 62.5,322.5 63.1,322.6 C63.7,322.7 64.2,322.9 64.8,322.9 C65.3,322.9 65.9,322.7 66.4,322.5 C67,322.4 67.4,322.7 68.1,322.1 C68.8,321.5 69.9,319.9 70.6,318.8 C71.3,317.7 71.6,315.4 72.2,315.6 C72.8,315.8 73.7,319 74.4,320.1 C75.1,321.2 75.7,321.6 76.3,322.2 C76.9,322.8 77.6,323.7 78.2,323.9 C78.8,324.1 79.3,323.5 79.9,323.2 C80.4,323 81,322.6 81.5,322.4 C82.1,322.2 82.6,322 83.2,322.1 C83.8,322.2 84.3,322.9 84.9,323.1 C85.4,323.3 86,323 86.5,323.2 C87.1,323.5 87.6,324.4 88.2,324.6 C88.8,324.8 89.3,324.3 89.9,324.3 C90.4,324.2 91,324.6 91.5,324.5 C92.1,324.5 92.6,323.9 93.2,323.9 C93.8,323.9 94.3,324.4 94.9,324.5 C95.4,324.6 96,324.7 96.6,324.6 C97.1,324.6 97.7,324.4 98.2,324.4 C98.8,324.4 99.4,324.8 99.9,324.9 C100.5,325.1 101.1,325.1 101.6,325.3 C102.2,325.4 102.7,325.5 103.3,325.6 C103.9,325.7 104.5,325.9 105.1,326 C105.7,326 106.3,325.8 106.9,325.9 C107.5,326 108.1,326.3 108.7,326.5 C109.3,326.7 109.8,327.1 110.4,327.1 C111,327 111.6,326.2 112.2,326.2 C112.8,326.2 113.4,327 114,327.1 C114.6,327.2 115.2,327 115.8,327.1 C116.4,327.2 117,327.5 117.6,327.5 C118.2,327.5 118.8,327 119.4,326.9 C120,326.9 120.6,326.9 121.2,327.1 C121.8,327.2 122.4,327.9 123,327.8 C123.6,327.7 124.2,326.6 124.8,326.5 C125.4,326.4 126,327.1 126.6,327.2 C127.2,327.3 127.8,327.2 128.4,327.1 C129,327 129.6,326.6 130.2,326.7 C130.8,326.8 131.4,327.4 132,327.6 C132.6,327.8 133.2,328 133.8,327.9 C134.4,327.9 134.9,327.6 135.5,327.4 C136.1,327.2 136.7,326.9 137.3,326.9 C137.9,326.9 138.5,327.5 139.1,327.6 C139.7,327.7 140.3,327.6 140.9,327.6 C141.5,327.6 142.1,327.6 142.7,327.6 C143.3,327.6 143.9,327.8 144.5,327.8 C145.1,327.7 145.7,327.4 146.3,327.4 C146.9,327.4 147.4,327.5 148,327.5 C148.6,327.6 149.2,327.8 149.8,327.7 C150.4,327.7 151,327.3 151.6,327.2 C152.2,327.1 152.8,327.2 153.4,327.1 C154,327 154.6,326.8 155.2,326.9 C155.8,326.9 156.4,327.6 157,327.5 C157.6,327.4 158.2,326.5 158.8,326.4 C159.4,326.3 160,326.9 160.6,327 C161.2,327 161.8,326.5 162.4,326.4 C163,326.4 163.6,326.9 164.2,326.9 C164.8,326.9 165.4,326.6 166,326.4 C166.6,326.2 167.1,325.6 167.6,325.6 C168.1,325.6 168.7,326.6 169.2,326.6 C169.7,326.5 170.3,325.7 170.8,325.4 C171.3,325.1 171.9,324.8 172.4,324.7 C172.9,324.7 173.4,325.1 174,325.1 C174.6,325.1 175.3,324.9 175.9,324.9 C176.5,324.9 177.2,325.2 177.8,325.2 C178.4,325.2 179.1,324.7 179.7,324.8 C180.3,324.9 181,325.3 181.6,325.6 C182.2,325.9 182.8,326.3 183.4,326.7 C184.1,327.2 184.6,328 185.3,328.1 C186,328.2 187,327 187.8,327.1 C188.6,327.2 189.6,328.1 190.3,328.9 C191,329.7 191.5,332.4 192.1,332.1 C192.7,331.8 193.5,328.1 194.1,327.1 C194.7,326.1 195.2,326.4 195.8,326.2 C196.3,325.9 196.9,326 197.4,325.7 C198,325.5 198.5,324.7 199.1,324.6 C199.7,324.5 200.2,325.1 200.8,325.4 C201.3,325.7 201.9,325.9 202.4,326.3 C203,326.6 203.3,326.6 204.1,327.6 C204.9,328.6 206.3,330.9 207.2,332.1 C208,333.3 208.4,334.7 209.2,334.7 C209.9,334.7 211,333 211.7,332.1 C212.4,331.2 212.9,330.2 213.6,329.5 C214.2,328.7 214.8,327.8 215.4,327.6 C216,327.4 216.7,328.1 217.3,328.2 C217.9,328.3 218.5,327.9 219.2,328.1 C219.9,328.3 221,329.7 221.7,329.6 C222.4,329.5 223,328.5 223.6,327.7 C224.2,326.9 224.9,325.2 225.5,324.6 C226.1,324 226.7,324.5 227.2,324.3 C227.8,324.2 228.4,323.6 228.9,323.6 C229.5,323.5 230.1,324.1 230.7,324.1 C231.2,324 231.8,323.4 232.4,323.2 C233,323 233.6,322.8 234.1,322.6 C234.7,322.5 235.3,322.2 235.9,322.2 C236.4,322.2 237,322.8 237.6,322.8 C238.2,322.8 238.7,322.2 239.3,322.1 C239.9,322 240.4,322.4 241,322.4 C241.5,322.4 242.1,322.1 242.6,322 C243.2,321.9 243.8,321.7 244.3,321.7 C244.9,321.6 245.4,321.8 246,321.7 C246.6,321.6 247.1,321 247.7,321 C248.2,321.1 248.8,322 249.3,321.9 C249.9,321.9 250.5,321.1 251,321 C251.6,320.8 252.1,321.2 252.7,321.2 C253.2,321.3 253.8,321.3 254.4,321.3 C254.9,321.3 255.5,321.3 256,321.2 C256.6,321.1 257.1,320.8 257.7,320.6 C258.3,320.4 258.8,320.2 259.4,320.2 C259.9,320.2 260.5,320.5 261.1,320.4 C261.6,320.4 262.2,319.8 262.7,319.7 C263.3,319.7 263.8,320 264.4,320.1 C265,320.2 265.5,320.5 266.1,320.4 C266.6,320.3 267.2,319.6 267.7,319.6 C268.3,319.5 268.8,320.2 269.4,320.1 C270,320 270.5,319.3 271.1,319.1 C271.6,318.9 272.2,319.2 272.7,319.1 C273.3,319 273.8,318.8 274.4,318.8 C275,318.7 275.5,318.9 276.1,318.8 C276.6,318.8 277.2,318.5 277.7,318.3 C278.3,318.2 278.8,317.8 279.4,317.9 C280,318 280.5,318.7 281.1,318.7 C281.6,318.8 282.2,318.1 282.7,318 C283.3,317.8 283.8,317.8 284.4,317.7 C285,317.7 285.5,317.7 286.1,317.7 C286.6,317.7 287.2,317.7 287.7,317.7 C288.3,317.7 288.8,317.7 289.4,317.6 C290,317.5 290.5,317.4 291,317.4 C291.6,317.4 292.1,317.6 292.7,317.6 C293.2,317.6 293.8,317.6 294.4,317.5 C294.9,317.5 295.4,317.2 296,317.2 C296.6,317.2 297.3,317.3 297.9,317.5 C298.5,317.7 299.2,317.8 299.8,318.2 C300.4,318.6 301,319.5 301.6,319.8 C302.3,320.1 302.8,319.9 303.5,320.2 C304.2,320.5 305.3,321.4 306,321.4 C306.7,321.4 307.3,320.8 307.9,320.3 C308.5,319.8 309.1,318.8 309.8,318.2 C310.5,317.6 311.2,316.8 311.9,316.6 C312.6,316.3 313.3,316.9 314,316.7 C314.7,316.4 315.5,315.4 316.1,315.2 C316.7,315 317.3,315.5 317.9,315.5 C318.4,315.4 319,315.3 319.6,315 C320.2,314.7 320.8,313.9 321.4,313.8 C321.9,313.7 322.5,314.4 323.1,314.4 C323.7,314.4 324.3,314.1 324.9,313.8 C325.4,313.5 326,312.9 326.6,312.7 C327.2,312.4 327.8,312.2 328.4,312.3 C328.9,312.5 329.5,313.3 330.1,313.4 C330.7,313.4 331.3,312.8 331.9,312.6 C332.4,312.4 333,312.3 333.6,312.1 C334.2,311.9 334.7,311.7 335.3,311.5 C335.8,311.3 336.4,311.1 336.9,311 C337.5,310.9 338.1,310.9 338.6,310.8 C339.2,310.7 339.7,310.6 340.3,310.7 C340.9,310.7 341.4,311.2 342,311.2 C342.5,311.1 343.1,310.5 343.6,310.3 C344.2,310.1 344.8,309.7 345.3,309.7 C345.9,309.8 346.4,310.5 347,310.5 C347.5,310.6 348.1,310.4 348.7,310.1 C349.2,309.8 349.8,309 350.3,309 C350.9,308.9 351.4,309.7 352,309.7 C352.6,309.7 353.1,309.2 353.7,309.1 C354.2,308.9 354.8,309.1 355.4,309 C355.9,309 356.5,308.8 357,308.6 C357.6,308.4 358.1,308.2 358.7,308.1 C359.3,308 359.9,308.3 360.5,308.2 C361.1,308.1 361.6,307.8 362.2,307.5 C362.8,307.2 363.5,307 364,306.6 C364.5,306.2 364.9,305.4 365.5,305.4 C366.1,305.4 366.8,307 367.5,306.8 C368.2,306.6 368.8,304.3 369.5,304.1 C370.2,303.9 370.8,305.8 371.5,305.6 C372.2,305.4 372.8,303 373.5,302.7 C374.2,302.4 374.8,304 375.5,303.9 C376.2,303.8 376.8,301.9 377.5,301.8 C378.2,301.7 378.8,303.5 379.5,303.3 C380.2,303.1 380.8,300.8 381.5,300.5 C382.2,300.2 382.8,301.9 383.5,301.6 C384.2,301.3 384.8,299 385.5,298.8 C386.2,298.6 386.8,300.8 387.5,300.6 C388.2,300.4 388.8,297.9 389.5,297.7 C390.2,297.5 390.8,299.5 391.5,299.3 C392.2,299.1 392.8,296.9 393.5,296.6 C394.2,296.4 394.8,298 395.5,297.8 C396.2,297.6 396.8,295.4 397.5,295.3 C398.2,295.2 398.8,297.4 399.5,297.2 C400.2,297 400.8,294.4 401.5,294.2 C402.2,294 402.9,295.9 403.5,295.9 C404.1,295.9 404.5,294 405,294 C405.5,294 406,295.5 406.5,296 C407,296.5 407.4,297.7 408,297 C408.6,296.3 409.3,293.5 410,292 C410.7,290.5 411.3,288 412,288 C412.7,288 413.3,291.7 414,292 C414.7,292.3 415.3,289.7 416,290 C416.7,290.3 417.2,294.3 418,294 C418.8,293.7 420.2,288.2 421,288 C421.8,287.8 422.2,292.5 423,293 C423.8,293.5 425.2,290.5 426,291 C426.8,291.5 427.4,293.7 428,296 C428.6,298.3 428.9,304.3 429.5,304.6 C430.1,304.9 430.6,300.2 431.3,297.6 C432,295 433,291.5 433.8,288.8 C434.6,286.1 435.5,283.2 436.3,281.3 C437.1,279.4 438.1,277.1 438.8,277.5 C439.5,277.9 439.9,284 440.5,283.8 C441.1,283.6 441.8,277.1 442.5,276.3 C443.2,275.5 443.9,276.9 444.5,278.8 C445.1,280.7 445.8,282.2 446.3,287.6 C446.8,293 447.1,311 447.6,311.4 C448.1,311.8 448.7,293.8 449.3,290 C449.9,286.2 450.7,288.4 451.3,288.8 C451.9,289.2 452.6,288.7 453.1,292.6 C453.7,296.5 454.1,311.3 454.6,312.1 C455.1,312.9 455.6,301.5 456.3,297.6 C457,293.7 458.1,290.5 458.8,288.8 C459.5,287.1 460.1,287.8 460.7,287.1 C461.3,286.4 461.9,284.2 462.6,284.5 C463.3,284.8 464.4,288.2 465.1,288.8 C465.8,289.4 466.3,288.4 467,288.4 C467.6,288.4 468.2,288.9 468.8,288.8 C469.4,288.7 469.9,288.3 470.5,288 C471.1,287.6 471.6,287.1 472.2,286.6 C472.8,286.2 473.3,285.7 473.9,285.5 C474.5,285.3 475,285.5 475.6,285.3 C476.1,285.1 476.7,284.5 477.2,284.3 C477.8,284 478.3,283.8 478.9,283.8 C479.5,283.8 480.1,284.1 480.8,284 C481.4,283.9 482,283.5 482.6,283.2 C483.3,283 483.9,282.6 484.5,282.5 C485.1,282.4 485.7,282.5 486.4,282.5 C487.1,282.5 487.8,282.5 488.5,282.6 C489.2,282.6 489.9,282.7 490.6,282.9 C491.3,283.1 492,283.5 492.7,283.8 C493.4,284.1 493.9,284.5 494.6,284.7 C495.2,285 495.8,284.8 496.4,285.1 C497.1,285.4 497.7,286.2 498.3,286.6 C498.9,287 499.6,287.4 500.2,287.6 C500.8,287.8 501.3,287.6 501.9,287.9 C502.4,288.2 503,288.8 503.5,289.2 C504.1,289.5 504.6,289.4 505.2,290 C505.8,290.6 506.3,291.7 506.9,292.5 C507.4,293.4 508,294.3 508.5,295.1 C509.1,296 509.6,296.8 510.2,297.6 C510.8,298.4 511.3,299.6 511.9,300.2 C512.4,300.7 513,300.4 513.5,301 C514.1,301.6 514.6,302.9 515.2,303.8 C515.8,304.7 516.3,305.7 516.9,306.4 C517.4,307.1 518,307.3 518.5,308 C519.1,308.6 519.6,309.1 520.2,310.1 C520.8,311.1 521.5,312.7 522.1,313.9 C522.7,315.2 523.5,316.4 524,317.6 C524.5,318.8 524.6,321.6 525.2,321.4 C525.8,321.2 527,317.4 527.7,316.4 C528.4,315.3 529.2,315.3 529.5,315.1" stroke="#800000"/>
<path d="M30.5,342.7 C30.8,342.7 31.6,342.8 32.2,342.8 C32.7,342.8 33.3,343 33.8,342.9 C34.4,342.8 34.9,342.4 35.5,342.3 C36.1,342.2 36.6,342.2 37.2,342.3 C37.7,342.4 38.3,342.8 38.8,342.8 C39.4,342.8 39.9,342.4 40.5,342.2 C41.1,342 41.7,341.6 42.3,341.6 C42.9,341.6 43.5,342.1 44.1,342.1 C44.7,342.2 45.3,342.2 45.9,342 C46.5,341.9 47.1,341.3 47.7,341.2 C48.3,341.2 48.9,341.7 49.5,341.7 C50.1,341.8 50.7,341.8 51.3,341.7 C51.9,341.7 52.5,341.4 53.1,341.4 C53.7,341.4 54.3,341.9 54.9,341.9 C55.5,341.8 56.1,341.2 56.7,341.2 C57.3,341.2 57.9,341.9 58.5,341.9 C59.1,342 59.6,341.5 60.2,341.4 C60.8,341.3 61.4,341.3 62,341.4 C62.6,341.5 63.2,341.8 63.8,341.8 C64.4,341.8 65,341.7 65.6,341.4 C66.2,341.1 66.7,340.4 67.2,340.3 C67.8,340.1 68.4,340.5 68.9,340.4 C69.5,340.3 70,339.9 70.5,339.7 C71.1,339.4 71.6,338.9 72.2,338.9 C72.8,338.9 73.5,339.4 74.2,339.8 C74.9,340.3 75.5,341.1 76.2,341.5 C76.9,341.9 77.6,342.1 78.2,342.2 C78.8,342.3 79.4,342.1 80,342.1 C80.6,342.1 81.2,342.3 81.8,342.3 C82.4,342.4 83,342.4 83.6,342.4 C84.2,342.5 84.7,342.8 85.3,342.8 C85.9,342.7 86.5,342.3 87.1,342.2 C87.7,342.2 88.3,342.5 88.9,342.6 C89.5,342.6 90.1,342.7 90.7,342.7 C91.3,342.7 91.9,342.6 92.5,342.6 C93.1,342.6 93.7,342.7 94.3,342.8 C94.9,342.8 95.5,343.1 96.1,343.1 C96.7,343 97.3,342.5 97.9,342.5 C98.5,342.5 99.1,343 99.7,343.1 C100.3,343.1 100.9,342.7 101.5,342.6 C102.1,342.5 102.7,342.7 103.3,342.7 C103.9,342.7 104.4,342.7 105,342.7 C105.5,342.7 106.1,342.4 106.6,342.4 C107.2,342.4 107.8,342.6 108.3,342.7 C108.9,342.8 109.4,343.2 110,343.2 C110.6,343.2 111.1,342.9 111.7,342.9 C112.2,342.8 112.8,343.1 113.3,343 C113.9,343 114.5,342.6 115,342.5 C115.6,342.4 116.1,342.5 116.7,342.5 C117.2,342.5 117.8,342.4 118.4,342.5 C118.9,342.5 119.5,342.7 120,342.8 C120.6,342.9 121.1,342.8 121.7,342.8 C122.3,342.9 122.8,343.1 123.4,343 C123.9,342.9 124.5,342.2 125.1,342.2 C125.6,342.2 126.2,342.9 126.7,342.9 C127.3,343 127.8,342.7 128.4,342.7 C129,342.7 129.5,343.1 130.1,343.1 C130.6,343.1 131.2,342.9 131.7,342.7 C132.3,342.6 132.8,342.2 133.4,342.2 C134,342.2 134.5,342.5 135.1,342.5 C135.6,342.5 136.2,342.2 136.7,342.2 C137.3,342.1 137.8,342.2 138.4,342.4 C139,342.5 139.5,343.1 140.1,343.2 C140.6,343.2 141.2,342.9 141.7,342.8 C142.3,342.8 142.8,342.8 143.4,342.9 C144,342.9 144.5,343 145.1,343 C145.6,343.1 146.2,343.2 146.7,343.2 C147.3,343.1 147.8,342.9 148.4,342.8 C149,342.8 149.5,342.8 150.1,342.8 C150.6,342.8 151.2,342.9 151.7,342.8 C152.3,342.8 152.8,342.7 153.4,342.7 C154,342.7 154.6,342.9 155.2,342.8 C155.8,342.8 156.4,342.7 157,342.7 C157.6,342.6 158.2,342.8 158.8,342.7 C159.4,342.6 160,342.1 160.6,342.1 C161.2,342.1 161.8,342.5 162.4,342.5 C163,342.5 163.6,342.3 164.2,342.2 C164.8,342.2 165.4,342.2 166,342.2 C166.6,342.2 167.2,342.5 167.8,342.4 C168.3,342.2 168.9,341.6 169.5,341.5 C170.1,341.3 170.7,341.5 171.2,341.4 C171.8,341.4 172.4,341.1 173,341.2 C173.6,341.2 174.2,341.8 174.8,341.8 C175.3,341.9 175.9,341.4 176.5,341.4 C177.1,341.4 177.7,341.8 178.3,341.9 C178.9,341.9 179.5,341.7 180.1,341.6 C180.7,341.5 181.3,341.2 181.9,341.3 C182.5,341.3 183.1,341.7 183.7,341.8 C184.3,341.8 184.9,341.8 185.5,341.7 C186.1,341.7 186.7,341.5 187.3,341.5 C187.9,341.4 188.5,341.4 189.1,341.4 C189.7,341.4 190.3,341.5 191,341.6 C191.6,341.7 192.2,341.9 192.8,342.1 C193.5,342.3 194.1,342.5 194.7,342.7 C195.3,342.9 195.9,341.9 196.6,343.2 C197.3,344.5 198.3,347.9 199.1,350.2 C199.9,352.5 200.8,355.7 201.6,357.2 C202.3,358.7 202.8,359.2 203.6,359 C204.3,358.8 205.2,355.6 206.1,355.7 C206.9,355.8 207.8,359.4 208.7,359.7 C209.6,359.9 210.9,357.8 211.7,357.2 C212.5,356.6 212.9,356.5 213.6,356.3 C214.2,356 214.8,355.8 215.4,355.7 C216,355.6 216.5,355.6 217.1,355.6 C217.6,355.6 218.1,356 218.7,355.7 C219.3,355.4 219.7,353.9 220.4,354 C221.1,354.1 222.2,357.1 223,356.5 C223.8,355.9 224.8,351.5 225.5,350.2 C226.2,348.9 226.7,349.1 227.3,348.5 C228,347.8 228.6,346.7 229.2,346.4 C229.8,346.1 230.3,346.7 230.9,346.5 C231.4,346.2 232,345.3 232.6,345.1 C233.1,344.9 233.7,345.4 234.2,345.2 C234.8,345.1 235.4,344.4 235.9,344.2 C236.5,344 237.1,344 237.6,343.9 C238.2,343.8 238.7,343.8 239.3,343.9 C239.9,344 240.4,344.2 241,344.2 C241.5,344.3 242.1,344 242.6,344 C243.2,343.9 243.7,343.9 244.3,343.9 C244.9,343.9 245.4,344.3 246,344.2 C246.5,344.2 247.1,343.8 247.7,343.6 C248.2,343.3 248.8,343 249.3,342.9 C249.9,342.9 250.4,343.2 251,343.2 C251.6,343.3 252.1,343.2 252.7,343.3 C253.2,343.3 253.8,343.5 254.3,343.5 C254.9,343.6 255.5,343.6 256,343.4 C256.6,343.3 257.1,342.9 257.7,342.7 C258.3,342.6 258.8,342.6 259.4,342.5 C259.9,342.4 260.5,342.1 261,342 C261.6,342 262.2,342.5 262.7,342.5 C263.3,342.5 263.8,342.3 264.4,342.2 C265,342.1 265.5,341.8 266.1,341.7 C266.6,341.6 267.2,341.6 267.7,341.5 C268.3,341.4 268.8,341.2 269.4,341.2 C270,341.1 270.5,340.9 271.1,341 C271.6,341.1 272.2,341.6 272.7,341.6 C273.3,341.5 273.8,340.8 274.4,340.8 C275,340.8 275.5,341.6 276.1,341.5 C276.6,341.5 277.2,340.5 277.7,340.4 C278.3,340.3 278.8,341.2 279.4,341.1 C280,341.1 280.5,340.3 281.1,340.1 C281.6,339.9 282.2,339.8 282.7,339.8 C283.3,339.9 283.8,340.5 284.4,340.4 C285,340.4 285.5,339.8 286.1,339.7 C286.6,339.7 287.2,340.1 287.7,340.1 C288.3,340.1 288.8,339.9 289.4,339.7 C290,339.5 290.5,339.2 291,339 C291.6,338.8 292.1,338.5 292.7,338.5 C293.2,338.4 293.8,338.9 294.4,338.9 C294.9,338.8 295.4,338.2 296,338.2 C296.6,338.2 297.3,338.7 297.9,338.8 C298.5,339 299.1,338.6 299.8,339 C300.5,339.4 301.6,341.2 302.3,341.5 C303,341.8 303.5,341.1 304.1,340.6 C304.8,340.2 305.4,339.3 306,339 C306.6,338.7 307.1,339.2 307.7,339.1 C308.2,339 308.8,338.3 309.4,338.3 C309.9,338.2 310.5,338.6 311,338.7 C311.6,338.8 312.2,338.7 312.7,338.7 C313.3,338.6 313.8,338.2 314.4,338.2 C314.9,338.2 315.5,338.7 316.1,338.6 C316.6,338.5 317.2,337.8 317.7,337.7 C318.3,337.7 318.9,338.4 319.4,338.4 C320,338.4 320.5,337.8 321.1,337.7 C321.7,337.6 322.2,338 322.8,337.9 C323.3,337.7 323.9,337.2 324.4,337 C325,336.8 325.6,336.8 326.1,336.9 C326.7,337 327.2,337.4 327.8,337.5 C328.4,337.7 328.9,337.8 329.5,337.6 C330,337.5 330.6,336.9 331.1,336.8 C331.7,336.6 332.3,336.8 332.8,336.9 C333.4,337 333.9,337.4 334.5,337.3 C335,337.3 335.6,336.6 336.2,336.6 C336.7,336.6 337.3,337.3 337.8,337.3 C338.4,337.3 338.9,337 339.5,336.8 C340.1,336.6 340.6,336.3 341.2,336.3 C341.7,336.2 342.3,336.4 342.9,336.5 C343.4,336.6 344,336.7 344.5,336.7 C345.1,336.7 345.6,336.6 346.2,336.5 C346.8,336.4 347.3,336.3 347.9,336.3 C348.4,336.3 349,336.5 349.5,336.5 C350.1,336.4 350.7,335.8 351.2,335.7 C351.8,335.7 352.3,336.3 352.9,336.3 C353.5,336.3 354,335.8 354.6,335.7 C355.1,335.7 355.7,335.9 356.2,335.9 C356.8,335.9 357.4,335.9 357.9,335.8 C358.5,335.7 359,335.5 359.6,335.4 C360.1,335.4 360.7,335.3 361.3,335.3 C361.8,335.3 362.4,335.6 362.9,335.6 C363.5,335.7 364,335.7 364.6,335.7 C365.2,335.6 365.7,335.5 366.3,335.4 C366.8,335.3 367.4,335.1 368,335 C368.5,334.9 369.1,334.6 369.6,334.6 C370.2,334.5 370.7,334.8 371.3,334.7 C371.9,334.6 372.4,334.1 373,334.2 C373.5,334.2 374.1,335 374.6,335.1 C375.2,335.2 375.8,334.8 376.3,334.8 C376.9,334.7 377.4,335 378,334.9 C378.6,334.8 379.1,334.3 379.7,334.3 C380.2,334.2 380.8,334.4 381.3,334.5 C381.9,334.6 382.5,334.9 383,334.9 C383.6,334.9 384.1,334.8 384.7,334.7 C385.2,334.6 385.8,334.5 386.4,334.4 C386.9,334.3 387.5,334.1 388,334 C388.6,334 389.1,334 389.7,334.1 C390.3,334.2 390.8,334.6 391.4,334.6 C391.9,334.5 392.5,334 393.1,334 C393.6,333.9 394.2,334.2 394.7,334.2 C395.3,334.3 395.8,334 396.4,334 C397,334 397.6,334.1 398.2,334.2 C398.8,334.3 399.4,334.6 400,334.6 C400.6,334.7 401.2,334.7 401.8,334.6 C402.4,334.6 402.9,334.3 403.5,334.2 C404.1,334 404.7,333.9 405.3,334 C405.9,334 406.5,334.2 407.1,334.3 C407.7,334.5 408.3,334.7 408.9,334.7 C409.5,334.7 410.1,334.5 410.7,334.4 C411.3,334.3 411.9,334.4 412.5,334.4 C413.1,334.4 413.7,334.4 414.3,334.4 C414.9,334.4 415.4,334.5 416,334.3 C416.6,334.1 417.2,333.2 417.8,333.1 C418.4,333 419,333.8 419.6,333.8 C420.2,333.8 420.8,333.1 421.4,333.2 C422,333.3 422.6,334.2 423.2,334.5 C423.8,334.9 424.4,335.1 425,335.2 C425.6,335.3 426.2,335.4 426.9,335.3 C427.5,335.2 428.1,334.8 428.8,334.6 C429.4,334.4 430,334.1 430.6,334 C431.2,333.9 431.9,333.9 432.5,333.9 C433.1,333.9 433.8,333.9 434.4,333.9 C435,333.8 435.6,333.6 436.2,333.4 C436.9,333.2 437.5,333 438.1,332.8 C438.8,332.6 439.4,332.2 440,332.2 C440.6,332.2 441.3,332.7 441.9,332.7 C442.5,332.7 443.2,332 443.8,332.2 C444.4,332.4 445.1,333.4 445.7,334.1 C446.3,334.8 447,335.4 447.6,336.4 C448.2,337.4 448.8,338.9 449.5,340.3 C450.1,341.8 450.6,343.8 451.3,345.2 C452,346.6 453.1,348.8 453.8,348.9 C454.5,349 455.1,346.9 455.7,345.9 C456.3,344.8 457,343.4 457.6,342.7 C458.2,342 458.7,342.2 459.3,341.8 C459.8,341.3 460.4,340.3 460.9,339.8 C461.5,339.4 461.9,338.4 462.6,338.9 C463.3,339.4 464.4,340.7 465.1,342.7 C465.9,344.7 466.5,350.7 467.1,350.7 C467.7,350.7 468.2,344.4 468.8,342.7 C469.4,341 470.1,341.3 470.7,340.5 C471.3,339.6 472,338.1 472.6,337.7 C473.2,337.3 473.9,338 474.5,337.8 C475.1,337.7 475.7,336.9 476.4,336.8 C477,336.6 477.6,336.9 478.2,336.8 C478.9,336.8 479.5,336.5 480.1,336.4 C480.7,336.3 481.4,336.3 482,336.2 C482.6,336 483.2,335.7 483.9,335.5 C484.5,335.3 485.1,334.9 485.7,334.8 C486.4,334.7 487,334.8 487.6,334.7 C488.2,334.6 488.7,334.3 489.3,334.3 C489.8,334.3 490.4,334.7 491,334.7 C491.5,334.8 492.1,334.7 492.6,334.6 C493.2,334.5 493.8,334.3 494.3,334.1 C494.9,333.9 495.5,333.6 496,333.6 C496.6,333.5 497.1,333.4 497.7,333.9 C498.3,334.4 498.9,335.9 499.5,336.7 C500.2,337.6 500.8,338.7 501.4,338.9 C502,339.1 502.7,338.4 503.3,337.9 C503.9,337.5 504.6,336.7 505.2,336.4 C505.8,336.1 506.4,336.2 507.1,336.3 C507.7,336.4 508.3,336.7 509,336.9 C509.6,337.1 510.2,337.4 510.8,337.4 C511.5,337.5 512.1,337.1 512.7,337.2 C513.3,337.3 514,337.8 514.6,337.9 C515.2,338 515.8,337.7 516.5,337.7 C517.1,337.7 517.7,337.8 518.3,337.9 C519,338 519.6,338 520.2,338.2 C520.8,338.4 521.3,338.8 521.9,339 C522.4,339.1 523,339 523.5,339.2 C524.1,339.4 524.6,340.1 525.2,340.2 C525.8,340.3 526.6,339.7 527.4,339.6 C528.1,339.5 529.1,339.7 529.5,339.7" stroke="#800080"/>
<path d="M30.5,362.7 C30.8,362.6 31.6,362.3 32.2,362.3 C32.7,362.3 33.3,362.7 33.8,362.7 C34.4,362.7 34.9,362.4 35.5,362.3 C36.1,362.3 36.6,362.5 37.2,362.4 C37.7,362.4 38.3,362.2 38.8,362.2 C39.4,362.1 39.9,362.2 40.5,362.2 C41.1,362.2 41.7,362.1 42.3,362 C42.9,361.9 43.5,361.6 44.1,361.4 C44.7,361.3 45.3,361 45.9,361.1 C46.5,361.2 47.1,361.9 47.7,361.8 C48.3,361.8 48.9,361.2 49.5,361 C50.1,360.8 50.7,360.6 51.3,360.5 C51.9,360.5 52.5,360.6 53.1,360.7 C53.7,360.8 54.3,360.9 54.9,360.9 C55.5,361 56.1,361.3 56.7,361.2 C57.3,361.2 57.9,360.7 58.5,360.7 C59.1,360.7 59.6,361.2 60.2,361.3 C60.8,361.3 61.4,361.1 62,361.1 C62.6,361.1 63.2,361.3 63.8,361.4 C64.4,361.5 65,361.7 65.6,361.5 C66.2,361.3 66.7,360.7 67.2,360.4 C67.8,360.1 68.4,359.8 68.9,359.8 C69.5,359.7 70,360.2 70.5,360.1 C71.1,360 71.6,358.9 72.2,359 C72.8,359.1 73.5,360.1 74.2,360.4 C74.9,360.8 75.5,360.8 76.2,361.1 C76.9,361.4 77.6,362 78.2,362.2 C78.8,362.4 79.4,362.3 80,362.3 C80.6,362.2 81.2,361.9 81.8,362 C82.4,362 83,362.5 83.6,362.5 C84.2,362.5 84.7,362.1 85.3,362.1 C85.9,362.2 86.5,362.6 87.1,362.6 C87.7,362.7 88.3,362.5 88.9,362.5 C89.5,362.4 90.1,362.2 90.7,362.2 C91.3,362.2 91.9,362.5 92.5,362.6 C93.1,362.7 93.7,362.9 94.3,362.8 C94.9,362.7 95.5,362.3 96.1,362.2 C96.7,362 97.3,362 97.9,362 C98.5,362 99.1,362.2 99.7,362.3 C100.3,362.3 100.9,362.2 101.5,362.3 C102.1,362.4 102.7,362.7 103.3,362.7 C103.9,362.7 104.4,362.4 105,362.3 C105.5,362.2 106.1,362.2 106.6,362.3 C107.2,362.3 107.8,362.6 108.3,362.8 C108.9,362.9 109.4,363.1 110,363.1 C110.6,363.1 111.1,362.6 111.7,362.7 C112.2,362.7 112.8,363.1 113.3,363.1 C113.9,363.2 114.5,363.3 115,363.1 C115.6,363 116.1,362.3 116.7,362.3 C117.2,362.2 117.8,362.7 118.4,362.8 C118.9,362.9 119.5,362.7 120,362.6 C120.6,362.5 121.1,362.2 121.7,362.3 C122.3,362.4 122.8,363.1 123.4,363.2 C123.9,363.2 124.5,362.5 125.1,362.5 C125.6,362.4 126.2,362.7 126.7,362.8 C127.3,362.8 127.8,362.7 128.4,362.7 C129,362.7 129.5,362.7 130.1,362.8 C130.6,362.9 131.2,363.1 131.7,363.1 C132.3,363.1 132.8,362.9 133.4,362.8 C134,362.7 134.5,362.5 135.1,362.5 C135.6,362.4 136.2,362.5 136.7,362.5 C137.3,362.4 137.8,362.1 138.4,362.2 C139,362.2 139.5,362.8 140.1,362.9 C140.6,363.1 141.2,363.1 141.7,362.9 C142.3,362.8 142.8,362.3 143.4,362.1 C144,362 144.5,361.9 145.1,361.9 C145.6,361.9 146.2,362 146.7,362.1 C147.3,362.1 147.8,362.1 148.4,362.2 C149,362.2 149.5,362.6 150.1,362.7 C150.6,362.8 151.2,362.7 151.7,362.6 C152.3,362.6 152.8,362.2 153.4,362.2 C154,362.2 154.6,362.6 155.2,362.5 C155.8,362.5 156.4,361.8 157,361.7 C157.6,361.7 158.2,362.4 158.8,362.5 C159.4,362.6 160,362.4 160.6,362.4 C161.2,362.4 161.8,362.3 162.4,362.3 C163,362.4 163.6,362.7 164.2,362.7 C164.8,362.7 165.4,362.3 166,362.2 C166.6,362.1 167.2,361.9 167.8,361.9 C168.3,361.9 168.9,362 169.5,362.2 C170.1,362.4 170.7,362.8 171.2,363 C171.8,363.2 172.4,363.3 173,363.4 C173.6,363.4 174.2,363.3 174.8,363.3 C175.3,363.3 175.9,363.3 176.5,363.3 C177.1,363.3 177.7,363.2 178.3,363.2 C178.9,363.2 179.5,363.5 180.1,363.6 C180.7,363.7 181.3,363.9 181.9,363.9 C182.5,363.8 183.1,363.3 183.7,363.3 C184.3,363.3 184.9,363.6 185.5,363.6 C186.1,363.7 186.7,363.6 187.3,363.7 C187.9,363.7 188.5,363.9 189.1,364 C189.7,364.1 190.3,364 191,364.2 C191.6,364.5 192.2,365 192.8,365.2 C193.5,365.4 194.1,365.3 194.7,365.5 C195.3,365.8 196,366.1 196.6,366.5 C197.2,366.9 197.7,367.4 198.3,367.9 C198.8,368.4 199.4,368.9 199.9,369.5 C200.5,370.1 201,370.9 201.6,371.5 C202.2,372.1 202.7,372.7 203.3,373.1 C203.8,373.5 204.4,373.4 204.9,373.9 C205.5,374.3 206,375.5 206.6,375.8 C207.2,376.1 207.9,376 208.5,375.9 C209.1,375.8 209.8,375.4 210.4,375.2 C211,375.1 211.7,375 212.3,375 C212.9,375 213.6,375.2 214.2,375.3 C214.8,375.4 215.3,375.7 215.9,375.6 C216.4,375.5 217,374.8 217.5,374.7 C218.1,374.6 218.4,374.6 219.2,374.8 C220,375 221.3,375.9 222.2,375.8 C223.1,375.7 223.7,375.1 224.4,374.5 C225.2,373.9 226,372.8 226.7,372.3 C227.4,371.8 227.9,371.9 228.6,371.5 C229.2,371.2 229.8,370.9 230.4,370.4 C231.1,369.9 231.7,369 232.3,368.6 C232.9,368.1 233.6,368 234.2,367.8 C234.8,367.6 235.3,367.4 235.9,367.1 C236.5,366.9 237,366.4 237.6,366.2 C238.2,366 238.7,366 239.3,366 C239.9,366 240.4,366.4 241,366.5 C241.5,366.6 242.1,366.5 242.6,366.5 C243.2,366.4 243.7,366.3 244.3,366.3 C244.9,366.2 245.4,366.2 246,366.2 C246.5,366.1 247.1,366 247.6,366.1 C248.2,366.2 248.7,366.6 249.3,366.7 C249.9,366.7 250.4,366.4 251,366.4 C251.5,366.4 252.1,366.6 252.6,366.6 C253.2,366.6 253.7,366.6 254.3,366.5 C254.9,366.4 255.4,366 256,365.9 C256.5,365.7 257.1,365.8 257.7,365.7 C258.2,365.5 258.8,365.2 259.4,365.2 C259.9,365.2 260.5,365.6 261,365.6 C261.6,365.6 262.2,365.3 262.7,365.1 C263.3,365 263.8,364.9 264.4,364.8 C265,364.7 265.5,364.3 266.1,364.3 C266.6,364.3 267.2,364.9 267.7,364.9 C268.3,364.9 268.8,364.3 269.4,364.2 C270,364 270.5,364.2 271.1,364.2 C271.6,364.1 272.2,363.9 272.7,363.8 C273.3,363.7 273.8,363.7 274.4,363.8 C275,363.8 275.5,364.2 276.1,364.2 C276.6,364.2 277.2,363.7 277.7,363.6 C278.3,363.4 278.8,363.3 279.4,363.3 C280,363.2 280.5,363.5 281.1,363.5 C281.6,363.4 282.2,363.1 282.7,363.2 C283.3,363.2 283.8,363.7 284.4,363.6 C285,363.5 285.5,362.7 286.1,362.7 C286.6,362.6 287.2,363.4 287.7,363.4 C288.3,363.4 288.8,363 289.4,362.8 C290,362.6 290.5,362.4 291,362.5 C291.6,362.6 292.1,363.3 292.7,363.4 C293.2,363.6 293.8,363.4 294.4,363.3 C294.9,363.3 295.4,363.3 296,363.3 C296.6,363.3 297.3,363.3 297.9,363.4 C298.5,363.5 298.9,363.6 299.8,364.1 C300.7,364.6 302.1,366.4 303,366.6 C303.9,366.8 304.4,365.7 305.1,365.3 C305.9,364.9 306.6,364.4 307.3,364.1 C308,363.8 308.5,363.7 309.1,363.5 C309.6,363.4 310.2,363.3 310.8,363.1 C311.4,363 312,362.8 312.6,362.7 C313.2,362.6 313.8,362.6 314.3,362.5 C314.9,362.5 315.5,362.3 316.1,362.3 C316.7,362.3 317.3,362.7 317.9,362.7 C318.4,362.8 319,362.7 319.6,362.7 C320.2,362.6 320.8,362.7 321.4,362.5 C321.9,362.3 322.5,361.7 323.1,361.6 C323.7,361.5 324.3,361.6 324.9,361.7 C325.4,361.8 326,362.3 326.6,362.3 C327.2,362.2 327.8,361.4 328.4,361.4 C328.9,361.3 329.5,362 330.1,362 C330.7,362 331.3,361.5 331.9,361.5 C332.4,361.4 333,361.5 333.6,361.6 C334.2,361.7 334.7,362.1 335.3,362 C335.8,361.9 336.4,361.1 336.9,361 C337.5,361 338.1,361.7 338.6,361.7 C339.2,361.8 339.7,361.4 340.3,361.2 C340.9,361.1 341.4,361 342,361 C342.5,360.9 343.1,360.7 343.6,360.8 C344.2,360.9 344.8,361.5 345.3,361.6 C345.9,361.6 346.4,361.3 347,361.2 C347.5,361.1 348.1,360.8 348.7,360.8 C349.2,360.8 349.8,360.9 350.3,361 C350.9,361.1 351.4,361.5 352,361.4 C352.6,361.4 353.1,360.8 353.7,360.7 C354.2,360.6 354.8,361 355.4,361 C355.9,360.9 356.5,360.5 357,360.5 C357.6,360.5 358.1,360.8 358.7,360.8 C359.3,360.8 359.8,360.4 360.4,360.4 C360.9,360.4 361.5,360.9 362,360.9 C362.6,361 363.2,360.9 363.7,360.8 C364.3,360.7 364.8,360.4 365.4,360.2 C366,360.1 366.5,360.1 367.1,360 C367.6,360 368.2,359.9 368.7,360 C369.3,360.1 369.9,360.4 370.4,360.4 C371,360.5 371.5,360.3 372.1,360.3 C372.6,360.2 373.2,360 373.8,360 C374.3,359.9 374.9,359.8 375.4,359.8 C376,359.9 376.5,360.1 377.1,360.2 C377.7,360.2 378.2,360.2 378.8,360.2 C379.3,360.2 379.9,360.3 380.5,360.2 C381,360.2 381.6,360 382.1,359.9 C382.7,359.9 383.2,359.9 383.8,359.8 C384.4,359.7 385,359.6 385.6,359.6 C386.1,359.5 386.7,359.4 387.3,359.5 C387.9,359.6 388.5,360.1 389.1,360.2 C389.7,360.3 390.3,359.9 390.8,359.9 C391.4,359.9 392,360.3 392.6,360.3 C393.2,360.2 393.8,359.6 394.4,359.7 C394.9,359.7 395.5,360.4 396.1,360.5 C396.7,360.5 397.3,360 397.9,360 C398.5,360.1 399.1,360.5 399.6,360.6 C400.2,360.6 400.8,360.1 401.4,360.3 C402,360.5 402.5,361.5 403.1,361.9 C403.6,362.4 404.2,362.5 404.7,362.8 C405.3,363.2 405.8,363.6 406.4,364.1 C407,364.6 407.7,365.3 408.3,366.1 C408.9,366.9 409.6,369 410.2,369.1 C410.8,369.2 411.4,367.8 412,367 C412.7,366.2 413.3,364.9 413.9,364.1 C414.5,363.3 415,362.9 415.6,362.4 C416.1,361.9 416.7,361.7 417.2,361.1 C417.8,360.6 418.3,359.5 418.9,359.1 C419.5,358.7 420.2,358.8 420.8,358.7 C421.4,358.5 422.1,358.4 422.7,358.4 C423.3,358.4 424,358.8 424.6,358.8 C425.2,358.8 425.9,358.4 426.5,358.3 C427.1,358.2 427.8,358.1 428.4,358 C429,357.9 429.6,357.8 430.2,357.7 C430.9,357.7 431.5,357.8 432.1,357.8 C432.8,357.8 433.4,357.8 434,357.8 C434.6,357.8 435.2,357.8 435.8,357.6 C436.4,357.4 437,356.8 437.6,356.7 C438.3,356.5 438.9,356.9 439.5,356.8 C440.1,356.8 440.7,356.5 441.3,356.5 C441.9,356.5 442.4,356.8 443,357 C443.5,357.2 444.1,357.5 444.6,357.6 C445.2,357.8 445.6,357.4 446.3,358.2 C447,359 448.1,360.7 448.8,362.7 C449.6,364.7 450.2,368.4 450.8,370.2 C451.4,371.9 452,374 452.6,373.2 C453.2,372.4 453.8,367.1 454.6,365.2 C455.4,363.2 456.8,362.2 457.6,361.5 C458.4,360.8 458.9,361.1 459.5,361.1 C460.1,361.2 460.7,361.6 461.4,361.7 C462,361.8 462.6,361.9 463.2,361.8 C463.9,361.8 464.5,361.5 465.1,361.5 C465.7,361.5 466.2,361.9 466.8,361.9 C467.3,361.8 467.9,361.3 468.4,361.3 C469,361.3 469.5,361.7 470.1,361.7 C470.7,361.7 471.2,361.4 471.8,361.4 C472.3,361.4 472.9,361.7 473.4,361.8 C474,361.8 474.5,361.6 475.1,361.5 C475.7,361.4 476.3,361 476.9,361.1 C477.5,361.1 478.1,361.7 478.7,361.9 C479.3,362 479.9,362 480.5,362 C481.1,361.9 481.6,361.6 482.2,361.5 C482.8,361.4 483.4,361.5 484,361.5 C484.6,361.5 485.2,361.5 485.8,361.5 C486.4,361.5 487,361.5 487.6,361.5 C488.2,361.5 488.8,361.6 489.4,361.5 C490,361.5 490.6,360.9 491.2,361 C491.8,361.1 492.4,361.9 493,362 C493.6,362 494.2,361.4 494.8,361.2 C495.4,361.1 496,361.2 496.6,361.2 C497.2,361.2 497.8,361 498.4,361.1 C499,361.2 499.6,361.5 500.2,361.5 C500.8,361.5 501.4,361 502.1,360.9 C502.7,360.9 503.3,361.3 503.9,361.2 C504.6,361 505.2,360.2 505.8,360.1 C506.4,359.9 507.1,360.2 507.7,360.2 C508.3,360.2 508.8,359.8 509.4,359.9 C509.9,360 510.5,360.5 511.1,360.6 C511.6,360.6 512.2,360.3 512.7,360.2 C513.3,360.1 513.8,360 514.4,360.1 C515,360.2 515.5,360.7 516.1,360.8 C516.6,360.9 517.2,360.9 517.8,360.9 C518.3,360.9 518.9,360.9 519.4,360.9 C520,361 520.6,361.2 521.1,361.2 C521.7,361.2 522.2,360.6 522.8,360.7 C523.4,360.8 523.9,361.4 524.5,361.6 C525,361.7 525.6,361.6 526.1,361.5 C526.7,361.4 527.3,360.9 527.8,360.9 C528.4,360.9 529.2,361.4 529.5,361.5" stroke="#1010ff"/>
<path d="M30.5,387.3 C30.8,387.2 31.6,386.9 32.2,386.9 C32.7,386.9 33.3,387.2 33.8,387.3 C34.4,387.4 34.9,387.3 35.5,387.3 C36.1,387.3 36.6,387.1 37.2,387.1 C37.7,387 38.3,386.9 38.8,386.9 C39.4,387 39.9,387.3 40.5,387.3 C41.1,387.3 41.7,387.3 42.3,387.2 C42.9,387.1 43.5,386.9 44.1,386.9 C44.7,387 45.3,387.3 45.9,387.4 C46.5,387.5 47.1,387.7 47.7,387.7 C48.3,387.6 48.9,387 49.5,386.9 C50.1,386.9 50.7,387.3 51.3,387.4 C51.9,387.4 52.5,387.3 53.1,387.3 C53.7,387.3 54.3,387.7 54.9,387.6 C55.5,387.6 56.1,387.1 56.7,387.1 C57.3,387.1 57.9,387.7 58.5,387.8 C59.1,388 59.6,388.1 60.2,388 C60.8,388 61.4,387.6 62,387.5 C62.6,387.5 63.2,387.6 63.8,387.6 C64.4,387.7 65,387.6 65.6,387.8 C66.2,388 66.9,388.5 67.5,388.6 C68.1,388.8 68.8,388.7 69.4,388.8 C70,388.9 70.7,389 71.3,389.2 C71.9,389.4 72.6,389.7 73.2,389.8 C73.8,389.9 74.5,390.1 75.1,390.1 C75.7,390.1 76.3,389.9 77,389.7 C77.6,389.6 78.2,389.2 78.8,389.1 C79.5,389 80,389.1 80.7,389.1 C81.4,389.1 82.1,389.2 82.8,389.4 C83.5,389.6 84.2,389.8 84.9,390.1 C85.6,390.3 86.3,390.6 87,390.8 C87.7,391 88.4,390.8 89.1,391 C89.8,391.2 90.4,391.7 91.1,391.8 C91.8,391.9 92.6,391.6 93.2,391.6 C93.8,391.6 94.3,391.7 94.9,391.7 C95.4,391.7 96,391.6 96.6,391.6 C97.1,391.5 97.7,391.3 98.2,391.3 C98.8,391.2 99.4,391.3 99.9,391.1 C100.5,390.9 101.1,390.2 101.6,390.1 C102.2,389.9 102.7,390.3 103.3,390.3 C103.9,390.3 104.5,390.2 105.1,390.2 C105.7,390.3 106.3,390.6 106.9,390.6 C107.5,390.7 108.1,390.7 108.7,390.5 C109.3,390.4 109.8,389.9 110.4,389.8 C111,389.7 111.6,389.8 112.2,389.9 C112.8,389.9 113.4,390 114,390 C114.6,390 115.2,389.8 115.8,389.8 C116.4,389.8 117,389.8 117.7,389.9 C118.3,390 118.9,390.3 119.5,390.3 C120.2,390.4 120.8,390 121.4,390.1 C122,390.2 122.7,390.8 123.3,390.8 C123.9,390.8 124.4,390.4 125,390.2 C125.6,390 126.1,389.8 126.7,389.7 C127.3,389.5 127.8,389.3 128.4,389.1 C129,388.9 129.6,388.7 130.2,388.6 C130.8,388.6 131.4,388.6 132,388.7 C132.6,388.9 133.2,389.5 133.8,389.6 C134.4,389.7 134.9,389.4 135.5,389.4 C136.1,389.4 136.7,389.6 137.3,389.5 C137.9,389.5 138.5,389.3 139.1,389.2 C139.7,389.2 140.3,389.1 140.9,389.1 C141.5,389.1 142.1,389.3 142.7,389.3 C143.3,389.3 143.9,389.3 144.5,389.3 C145.1,389.2 145.7,389.3 146.3,389.1 C146.9,389 147.4,388.3 148,388.2 C148.6,388.1 149.2,388.7 149.8,388.7 C150.4,388.7 151,388.2 151.6,388.2 C152.2,388.1 152.8,388.3 153.4,388.3 C154,388.3 154.6,388.5 155.2,388.4 C155.8,388.3 156.4,388 157,387.9 C157.6,387.9 158.2,388 158.8,388.1 C159.4,388.2 160,388.4 160.6,388.4 C161.2,388.4 161.8,388.2 162.4,388.1 C163,387.9 163.6,387.7 164.2,387.6 C164.8,387.6 165.4,387.8 166,387.8 C166.6,387.8 167.2,387.9 167.8,387.9 C168.3,387.9 168.9,387.8 169.5,387.9 C170.1,388 170.7,388.5 171.2,388.5 C171.8,388.5 172.4,388 173,387.9 C173.6,387.8 174.2,388 174.8,388 C175.3,388.1 175.9,388.2 176.5,388.3 C177.1,388.4 177.6,388.7 178.2,388.8 C178.7,388.9 179.3,388.5 179.9,388.6 C180.4,388.7 181,389.2 181.6,389.4 C182.1,389.7 182.7,390.1 183.2,390.2 C183.8,390.3 184.4,390 184.9,390.1 C185.5,390.1 186,390.3 186.6,390.4 C187.2,390.5 187.8,390.7 188.5,390.9 C189.1,391.2 189.7,391.6 190.3,391.9 C191,392.2 191.6,392.4 192.2,392.7 C192.8,392.9 193.5,393.3 194.1,393.4 C194.7,393.5 195.2,393.2 195.8,393.2 C196.3,393.1 196.9,393.2 197.4,393.3 C198,393.3 198.5,393.3 199.1,393.4 C199.7,393.4 200.2,393.6 200.8,393.7 C201.3,393.7 201.9,393.8 202.4,393.9 C203,394 203.5,394.1 204.1,394.1 C204.7,394.1 205.2,393.8 205.8,393.7 C206.3,393.6 206.9,393.5 207.5,393.4 C208,393.3 208.6,393.1 209.1,393.1 C209.7,393.1 210.3,393.3 210.8,393.3 C211.4,393.4 212,393.5 212.5,393.4 C213.1,393.4 213.6,393 214.2,392.9 C214.8,392.8 215.4,392.8 216.1,392.7 C216.7,392.6 217.3,392.4 217.9,392.3 C218.6,392.2 219.2,392.2 219.8,392.1 C220.4,392 221,391.5 221.7,391.6 C222.4,391.7 223.4,393.3 224.2,392.9 C225,392.5 226,389.8 226.7,389.1 C227.4,388.4 227.9,388.6 228.5,388.5 C229.1,388.5 229.7,388.8 230.3,388.8 C230.9,388.8 231.5,388.4 232.1,388.3 C232.7,388.2 233.3,388.2 233.9,388.1 C234.5,388.1 235.1,388 235.7,387.9 C236.3,387.8 236.9,387.6 237.5,387.5 C238.1,387.4 238.7,387.4 239.3,387.3 C239.9,387.2 240.4,387.1 241,387.1 C241.5,387 242.1,387 242.6,386.9 C243.2,386.9 243.8,386.9 244.3,386.9 C244.9,386.9 245.4,387.1 246,387.1 C246.6,387.1 247.1,387 247.7,386.9 C248.2,386.9 248.8,387.2 249.3,387.1 C249.9,387 250.5,386.5 251,386.5 C251.6,386.4 252.1,386.7 252.7,386.8 C253.2,386.9 253.8,387.3 254.4,387.2 C254.9,387.2 255.5,386.6 256,386.6 C256.6,386.5 257.1,386.8 257.7,386.8 C258.3,386.9 258.8,386.8 259.4,386.7 C259.9,386.7 260.5,386.4 261.1,386.5 C261.6,386.5 262.2,387.1 262.7,387.1 C263.3,387.2 263.8,386.7 264.4,386.6 C265,386.5 265.5,386.4 266.1,386.4 C266.6,386.4 267.2,386.9 267.7,386.9 C268.3,386.8 268.8,386.4 269.4,386.3 C270,386.1 270.5,386 271.1,386.2 C271.6,386.3 272.2,386.9 272.7,387 C273.3,387 273.8,386.7 274.4,386.5 C275,386.4 275.5,386.2 276.1,386.2 C276.6,386.2 277.2,386.4 277.7,386.5 C278.3,386.6 278.8,386.5 279.4,386.5 C280,386.6 280.5,386.9 281.1,386.8 C281.6,386.8 282.2,386.3 282.7,386.2 C283.3,386.1 283.8,386.2 284.4,386.3 C285,386.5 285.5,387 286.1,387.1 C286.6,387.1 287.2,386.9 287.7,386.8 C288.3,386.8 288.8,386.7 289.4,386.6 C290,386.5 290.5,386.3 291,386.3 C291.6,386.3 292.1,386.5 292.7,386.6 C293.2,386.6 293.8,386.6 294.4,386.7 C294.9,386.7 295.4,386.7 296,386.9 C296.6,387.1 297.5,387.4 298.2,387.6 C299,387.8 299.7,387.5 300.5,388 C301.3,388.5 302.3,390.6 303.2,390.7 C304.1,390.8 305.3,388.9 306.1,388.5 C306.9,388.1 307.4,388.3 308.1,388.2 C308.7,388.1 309.4,388.1 310.1,388 C310.7,388 311.4,387.8 312,387.6 C312.7,387.4 313.4,387 314,386.9 C314.6,386.8 315.1,386.8 315.6,386.8 C316.2,386.8 316.7,386.9 317.2,386.9 C317.8,386.9 318.3,386.9 318.8,386.8 C319.4,386.8 319.9,386.8 320.5,386.8 C321,386.7 321.5,386.4 322.1,386.4 C322.6,386.3 323.1,386.6 323.7,386.6 C324.2,386.6 324.7,386.2 325.3,386.2 C325.9,386.2 326.5,386.4 327.1,386.5 C327.6,386.6 328.2,386.8 328.8,386.8 C329.4,386.7 330,386 330.6,386.1 C331.2,386.1 331.7,386.9 332.3,386.9 C332.9,386.9 333.5,386.1 334.1,386.1 C334.7,386.1 335.2,386.8 335.8,386.9 C336.4,387.1 337,386.8 337.6,386.8 C338.2,386.8 338.8,386.8 339.3,386.8 C339.9,386.8 340.5,386.8 341.1,386.9 C341.7,387 342.2,387.4 342.8,387.5 C343.4,387.5 343.9,387.2 344.5,387.1 C345,387.1 345.6,387 346.2,387.1 C346.7,387.1 347.3,387.4 347.9,387.5 C348.4,387.6 349,387.7 349.5,387.7 C350.1,387.7 350.7,387.6 351.2,387.5 C351.8,387.5 352.4,387.4 352.9,387.4 C353.5,387.4 354,387.6 354.6,387.6 C355.2,387.6 355.7,387.6 356.3,387.7 C356.9,387.7 357.4,387.7 358,387.8 C358.6,387.9 359.1,388.2 359.7,388.2 C360.3,388.2 360.8,387.9 361.4,387.8 C362,387.8 362.5,388 363.1,388.1 C363.7,388.1 364.2,388.3 364.8,388.3 C365.4,388.4 365.9,388.2 366.5,388.3 C367.1,388.3 367.6,388.5 368.2,388.5 C368.8,388.5 369.4,388.2 370.1,388.1 C370.7,388.1 371.3,388.4 371.9,388.4 C372.6,388.4 373.2,388.4 373.8,388.3 C374.4,388.2 375,387.9 375.7,387.8 C376.3,387.6 376.9,387.6 377.5,387.5 C378.2,387.5 378.8,387.4 379.4,387.4 C380,387.4 380.5,387.3 381,387.3 C381.6,387.4 382.1,387.6 382.6,387.7 C383.2,387.8 383.7,387.7 384.2,387.8 C384.8,387.9 385.3,388.3 385.9,388.5 C386.4,388.7 386.9,388.8 387.5,388.8 C388,388.8 388.5,388.5 389.1,388.5 C389.6,388.6 390.1,388.9 390.7,389.2 C391.3,389.5 391.9,390.1 392.5,390.3 C393.1,390.5 393.7,390.1 394.3,390.3 C394.9,390.6 395.5,391.2 396.1,391.5 C396.7,391.8 397.3,392 397.9,392.2 C398.5,392.3 399.1,392.2 399.7,392.5 C400.3,392.8 401,393.6 401.6,393.9 C402.2,394.2 402.9,393.8 403.5,394.1 C404.1,394.3 404.8,395.2 405.4,395.3 C406,395.4 406.6,395 407.3,394.9 C407.9,394.9 408.5,395.2 409.1,395.1 C409.8,395 410.4,394.7 411,394.4 C411.6,394.1 412.1,393.7 412.7,393.4 C413.3,393.2 413.8,393.1 414.4,393 C415,392.9 415.5,393.1 416.1,393 C416.7,393 417.2,392.6 417.8,392.5 C418.4,392.4 419.1,392.4 419.8,392.4 C420.5,392.4 421.2,392.3 421.8,392.3 C422.4,392.3 423,392.6 423.6,392.6 C424.2,392.6 424.8,392.4 425.4,392.3 C426,392.2 426.7,391.9 427.3,391.9 C427.9,391.9 428.5,392.3 429.1,392.2 C429.7,392.2 430.3,391.7 430.9,391.6 C431.5,391.5 432,391.7 432.5,391.7 C433.1,391.8 433.6,391.8 434.2,391.8 C434.7,391.9 435.2,392.1 435.8,392.1 C436.3,392.1 436.9,391.9 437.4,391.9 C438,391.9 438.5,391.9 439,392 C439.6,392 440.1,392.2 440.7,392.3 C441.2,392.4 441.7,392.2 442.3,392.3 C442.9,392.4 443.6,392.6 444.2,392.9 C444.8,393.2 445.5,393.9 446.1,394.2 C446.7,394.5 447.4,394.4 448,394.5 C448.6,394.6 449.3,394.7 450,394.7 C450.6,394.7 451.3,394.6 451.9,394.5 C452.6,394.4 453.3,394.1 453.9,394.1 C454.6,394.1 455.2,394.6 455.9,394.5 C456.6,394.4 457.4,393.8 458.2,393.5 C459,393.2 459.8,392.7 460.5,392.7 C461.2,392.7 461.6,393 462.2,393.2 C462.8,393.4 463.3,393.8 463.9,393.9 C464.5,394 465,393.9 465.6,393.8 C466.2,393.8 466.7,393.7 467.3,393.7 C467.9,393.8 468.4,393.9 469,393.9 C469.6,394 470.1,394 470.7,393.9 C471.3,393.8 471.8,393.4 472.4,393.3 C473,393.2 473.5,393.2 474.1,393.2 C474.7,393.2 475.3,393.3 475.9,393.4 C476.5,393.5 477.1,393.7 477.7,393.8 C478.3,394 479,394.4 479.6,394.5 C480.2,394.5 480.8,394.1 481.4,394.1 C482,394.1 482.6,394.4 483.2,394.5 C483.8,394.6 484.3,394.5 484.8,394.5 C485.4,394.6 485.9,394.9 486.4,394.8 C487,394.8 487.5,394.3 488.1,394.2 C488.6,394.1 489.1,394.2 489.7,394.3 C490.2,394.5 490.8,394.9 491.3,395 C491.8,395.1 492.4,394.9 492.9,394.8 C493.5,394.7 494,394.6 494.5,394.5 C495.1,394.4 495.6,394 496.2,394.1 C496.7,394.2 497.3,394.8 497.8,394.9 C498.3,395 498.9,394.7 499.4,394.7 C500,394.7 500.5,394.8 501,394.8 C501.6,394.9 502.1,395 502.7,395 C503.2,395 503.7,395 504.3,394.9 C504.8,394.8 505.3,394.6 505.9,394.5 C506.5,394.4 507,394.4 507.6,394.3 C508.2,394.3 508.7,394.1 509.3,394 C509.9,394 510.4,394 511,394.1 C511.6,394.1 512.1,394.2 512.7,394.2 C513.3,394.2 513.8,394.2 514.4,394.1 C515,394.1 515.5,393.8 516.1,393.7 C516.7,393.7 517.2,393.6 517.8,393.7 C518.4,393.7 518.8,394 519.5,393.9 C520.2,393.8 521,393.5 521.8,393.2 C522.6,393 523.4,392.4 524.1,392.3 C524.8,392.2 525.3,392.6 525.9,392.7 C526.5,392.8 527.1,392.7 527.7,392.8 C528.3,392.8 529.2,393.1 529.5,393.2" stroke="#f010f0"/>
</g>
<g class="l">
<text transform="translate(32,27.3) scale(0.965,1)">Cellophane(70.21%)</text>
<text transform="translate(33.5,85.7) scale(0.965,1)">Polyvinyl acetateethylene(89.99%)</text>
<text transform="translate(31,116.7) scale(0.965,1)">Nitrocellulose(71.63%)</text>
<text transform="translate(31.5,139.1) scale(0.965,1)">PET(70.89%)</text>
<text transform="translate(31.5,173.7) scale(0.965,1)">POA(79.11%)</text>
<text transform="translate(31.5,205.1) scale(0.965,1)">poly decyl methacrylate(82.53%)</text>
<text transform="translate(31.5,249.39999999999998) scale(0.965,1)">Acrylates(78.89%)</text>
<text transform="translate(32.3,313.5) scale(0.965,1)">PS(85.90%)</text>
<text transform="translate(31.5,335.3) scale(0.965,1)">PP(96.27%)</text>
<text transform="translate(33.2,357.4) scale(0.965,1)">PE(93.83%)</text>
<text transform="translate(31.5,377.5) scale(0.965,1)">PMA(82.83%)</text>
</g>
<rect x="30.2" y="3" width="499.6" height="402" fill="none" stroke="#000" stroke-width="2"/>
<g stroke="#000" stroke-width="1.8">
<line x1="530" y1="405" x2="530" y2="413"/>
<line x1="488.3" y1="405" x2="488.3" y2="409"/>
<line x1="446.7" y1="405" x2="446.7" y2="413"/>
<line x1="405" y1="405" x2="405" y2="409"/>
<line x1="363.3" y1="405" x2="363.3" y2="413"/>
<line x1="321.7" y1="405" x2="321.7" y2="409"/>
<line x1="280" y1="405" x2="280" y2="413"/>
<line x1="238.3" y1="405" x2="238.3" y2="409"/>
<line x1="196.7" y1="405" x2="196.7" y2="413"/>
<line x1="155" y1="405" x2="155" y2="409"/>
<line x1="113.3" y1="405" x2="113.3" y2="413"/>
<line x1="71.7" y1="405" x2="71.7" y2="409"/>
<line x1="30" y1="405" x2="30" y2="413"/>
</g>
<g class="t">
<text x="530" y="431.5">1000</text>
<text x="446.7" y="431.5">1500</text>
<text x="363.3" y="431.5">2000</text>
<text x="280" y="431.5">2500</text>
<text x="196.7" y="431.5">3000</text>
<text x="113.3" y="431.5">3500</text>
<text x="30" y="431.5">4000</text>
</g>
<text class="ax" x="180" y="451.6" font-size="20.7px">Wave numbers(cm</text>
<text class="ax" transform="translate(353.4,442.9) scale(1.3,1.05)" font-size="13.5px">-</text>
<text class="ax" x="360.3" y="443.8" font-size="12.6px">1</text>
<text class="ax" x="369.4" y="451.6" font-size="20.7px">)</text>
<text class="ax" transform="translate(17,285.8) rotate(-90)" font-size="21px">Transmittance(%)</text>
</svg>
</body></html>
